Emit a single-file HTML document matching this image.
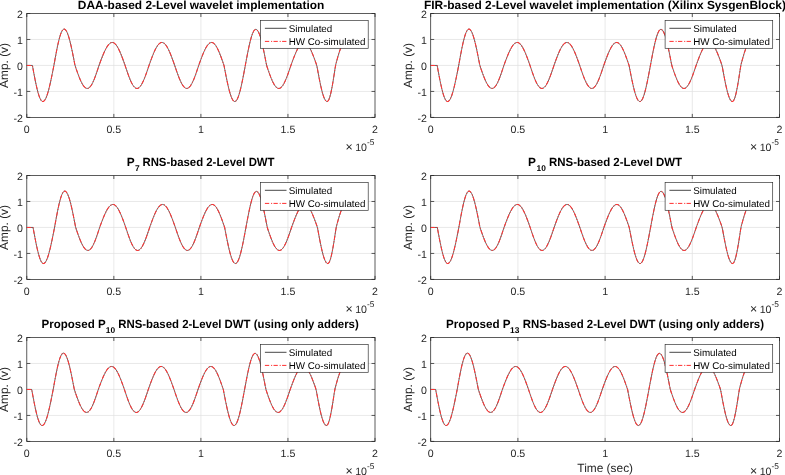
<!DOCTYPE html><html><head><meta charset="utf-8"><style>html,body{margin:0;padding:0;background:#fff;}svg{display:block}text{font-family:"Liberation Sans",Arial,Helvetica,sans-serif;text-rendering:geometricPrecision}</style></head><body>
<svg width="785" height="475" viewBox="0 0 785 475">
<rect width="785" height="475" fill="#fff"/>
<g><line x1="113.85" y1="13.50" x2="113.85" y2="117.40" stroke="#e0e0e0" stroke-width="0.7"/><line x1="200.90" y1="13.50" x2="200.90" y2="117.40" stroke="#e0e0e0" stroke-width="0.7"/><line x1="287.95" y1="13.50" x2="287.95" y2="117.40" stroke="#e0e0e0" stroke-width="0.7"/><line x1="26.80" y1="39.48" x2="375.00" y2="39.48" stroke="#e0e0e0" stroke-width="0.7"/><line x1="26.80" y1="65.45" x2="375.00" y2="65.45" stroke="#e0e0e0" stroke-width="0.7"/><line x1="26.80" y1="91.43" x2="375.00" y2="91.43" stroke="#e0e0e0" stroke-width="0.7"/><line x1="26.80" y1="117.40" x2="26.80" y2="113.90" stroke="#262626" stroke-width="0.75"/><line x1="26.80" y1="13.50" x2="26.80" y2="17.00" stroke="#262626" stroke-width="0.75"/><line x1="26.80" y1="13.50" x2="30.30" y2="13.50" stroke="#262626" stroke-width="0.75"/><line x1="375.00" y1="13.50" x2="371.50" y2="13.50" stroke="#262626" stroke-width="0.75"/><line x1="113.85" y1="117.40" x2="113.85" y2="113.90" stroke="#262626" stroke-width="0.75"/><line x1="113.85" y1="13.50" x2="113.85" y2="17.00" stroke="#262626" stroke-width="0.75"/><line x1="26.80" y1="39.48" x2="30.30" y2="39.48" stroke="#262626" stroke-width="0.75"/><line x1="375.00" y1="39.48" x2="371.50" y2="39.48" stroke="#262626" stroke-width="0.75"/><line x1="200.90" y1="117.40" x2="200.90" y2="113.90" stroke="#262626" stroke-width="0.75"/><line x1="200.90" y1="13.50" x2="200.90" y2="17.00" stroke="#262626" stroke-width="0.75"/><line x1="26.80" y1="65.45" x2="30.30" y2="65.45" stroke="#262626" stroke-width="0.75"/><line x1="375.00" y1="65.45" x2="371.50" y2="65.45" stroke="#262626" stroke-width="0.75"/><line x1="287.95" y1="117.40" x2="287.95" y2="113.90" stroke="#262626" stroke-width="0.75"/><line x1="287.95" y1="13.50" x2="287.95" y2="17.00" stroke="#262626" stroke-width="0.75"/><line x1="26.80" y1="91.43" x2="30.30" y2="91.43" stroke="#262626" stroke-width="0.75"/><line x1="375.00" y1="91.43" x2="371.50" y2="91.43" stroke="#262626" stroke-width="0.75"/><line x1="375.00" y1="117.40" x2="375.00" y2="113.90" stroke="#262626" stroke-width="0.75"/><line x1="375.00" y1="13.50" x2="375.00" y2="17.00" stroke="#262626" stroke-width="0.75"/><line x1="26.80" y1="117.40" x2="30.30" y2="117.40" stroke="#262626" stroke-width="0.75"/><line x1="375.00" y1="117.40" x2="371.50" y2="117.40" stroke="#262626" stroke-width="0.75"/><rect x="26.80" y="13.50" width="348.20" height="103.90" fill="none" stroke="#262626" stroke-width="0.75"/><path d="M26.80 65.45 L32.40 65.45 L32.80 67.63 L33.55 71.69 L34.30 75.67 L35.05 79.52 L35.80 83.19 L36.55 86.63 L37.30 89.80 L38.05 92.66 L38.80 95.16 L39.55 97.29 L40.30 99.01 L41.05 100.30 L41.80 101.14 L42.55 101.53 L43.30 101.46 L44.05 100.99 L44.80 100.12 L45.55 98.86 L46.30 97.22 L47.05 95.22 L47.80 92.89 L48.55 90.25 L49.30 87.33 L50.05 84.16 L50.80 80.79 L51.55 77.24 L52.30 73.56 L53.05 69.78 L53.80 65.96 L54.55 61.82 L55.30 57.67 L56.05 53.63 L56.80 49.74 L57.55 46.07 L58.30 42.65 L59.05 39.54 L59.80 36.77 L60.55 34.39 L61.30 32.41 L62.05 30.88 L62.80 29.81 L63.55 29.22 L64.30 29.10 L65.05 29.43 L65.80 30.17 L66.55 31.33 L67.30 32.88 L68.05 34.82 L68.80 37.11 L69.55 39.74 L70.30 42.66 L71.05 45.85 L71.80 49.27 L72.55 52.88 L73.30 56.63 L74.05 60.49 L74.80 64.40 L75.55 67.06 L76.30 69.25 L77.05 71.40 L77.80 73.50 L78.55 75.52 L79.30 77.45 L80.05 79.27 L80.80 80.96 L81.55 82.51 L82.30 83.91 L83.05 85.13 L83.80 86.18 L84.55 87.03 L85.30 87.69 L86.05 88.15 L86.80 88.39 L87.55 88.42 L88.30 88.23 L89.05 87.81 L89.80 87.16 L90.55 86.28 L91.30 85.20 L92.05 83.92 L92.80 82.45 L93.55 80.81 L94.30 79.01 L95.05 77.08 L95.80 75.03 L96.55 72.88 L97.30 70.65 L98.05 68.37 L98.80 66.07 L99.55 63.96 L100.30 61.93 L101.05 59.94 L101.80 57.99 L102.55 56.09 L103.30 54.27 L104.05 52.54 L104.80 50.91 L105.55 49.39 L106.30 48.00 L107.05 46.74 L107.80 45.63 L108.55 44.68 L109.30 43.89 L110.05 43.27 L110.80 42.82 L111.55 42.55 L112.30 42.46 L113.05 42.56 L113.80 42.85 L114.55 43.33 L115.30 44.00 L116.05 44.85 L116.80 45.88 L117.55 47.07 L118.30 48.42 L119.05 49.91 L119.80 51.53 L120.55 53.27 L121.30 55.11 L122.05 57.05 L122.80 59.05 L123.55 61.10 L124.30 63.20 L125.05 65.31 L125.80 67.57 L126.55 69.82 L127.30 72.03 L128.05 74.18 L128.80 76.24 L129.55 78.19 L130.30 80.02 L131.05 81.70 L131.80 83.23 L132.55 84.58 L133.30 85.75 L134.05 86.72 L134.80 87.48 L135.55 88.02 L136.30 88.34 L137.05 88.44 L137.80 88.31 L138.55 87.97 L139.30 87.40 L140.05 86.63 L140.80 85.65 L141.55 84.48 L142.30 83.12 L143.05 81.60 L143.80 79.92 L144.55 78.10 L145.30 76.15 L146.05 74.11 L146.80 71.98 L147.55 69.79 L148.30 67.55 L149.05 65.31 L149.80 63.21 L150.55 61.14 L151.30 59.10 L152.05 57.11 L152.80 55.19 L153.55 53.36 L154.30 51.62 L155.05 50.01 L155.80 48.52 L156.55 47.17 L157.30 45.97 L158.05 44.94 L158.80 44.08 L159.55 43.40 L160.30 42.90 L161.05 42.59 L161.80 42.46 L162.55 42.54 L163.30 42.80 L164.05 43.26 L164.80 43.90 L165.55 44.73 L166.30 45.73 L167.05 46.90 L167.80 48.23 L168.55 49.70 L169.30 51.31 L170.05 53.03 L170.80 54.86 L171.55 56.78 L172.30 58.78 L173.05 60.83 L173.80 62.92 L174.55 65.03 L175.30 67.24 L176.05 69.46 L176.80 71.64 L177.55 73.76 L178.30 75.81 L179.05 77.75 L179.80 79.58 L180.55 81.28 L181.30 82.82 L182.05 84.20 L182.80 85.41 L183.55 86.42 L184.30 87.24 L185.05 87.85 L185.80 88.24 L186.55 88.43 L187.30 88.39 L188.05 88.13 L188.80 87.64 L189.55 86.94 L190.30 86.03 L191.05 84.91 L191.80 83.61 L192.55 82.13 L193.30 80.48 L194.05 78.69 L194.80 76.77 L195.55 74.74 L196.30 72.61 L197.05 70.42 L197.80 68.17 L198.55 65.91 L199.30 63.77 L200.05 61.69 L200.80 59.64 L201.55 57.63 L202.30 55.69 L203.05 53.84 L203.80 52.07 L204.55 50.43 L205.30 48.90 L206.05 47.51 L206.80 46.28 L207.55 45.20 L208.30 44.29 L209.05 43.56 L209.80 43.01 L210.55 42.65 L211.30 42.48 L212.05 42.50 L212.80 42.73 L213.55 43.16 L214.30 43.79 L215.05 44.62 L215.80 45.64 L216.55 46.84 L217.30 48.20 L218.05 49.72 L218.80 51.38 L219.55 53.17 L220.30 55.07 L221.05 57.06 L221.80 59.13 L222.55 61.25 L223.30 63.41 L224.05 65.71 L224.80 69.64 L225.55 73.52 L226.30 77.30 L227.05 80.95 L227.80 84.40 L228.55 87.64 L229.30 90.61 L230.05 93.28 L230.80 95.62 L231.55 97.60 L232.30 99.19 L233.05 100.39 L233.80 101.17 L234.55 101.53 L235.30 101.45 L236.05 100.93 L236.80 99.95 L237.55 98.54 L238.30 96.72 L239.05 94.50 L239.80 91.92 L240.55 89.00 L241.30 85.79 L242.05 82.32 L242.80 78.64 L243.55 74.79 L244.30 70.83 L245.05 66.80 L245.80 62.75 L246.55 58.74 L247.30 54.81 L248.05 51.01 L248.80 47.40 L249.55 44.01 L250.30 40.89 L251.05 38.08 L251.80 35.62 L252.55 33.53 L253.30 31.84 L254.05 30.58 L254.80 29.75 L255.55 29.37 L256.30 29.44 L257.05 29.94 L257.80 30.86 L258.55 32.19 L259.30 33.92 L260.05 36.03 L260.80 38.48 L261.55 41.25 L262.30 44.31 L263.05 47.63 L263.80 51.15 L264.55 54.84 L265.30 58.66 L266.05 62.56 L266.80 66.04 L267.55 68.25 L268.30 70.44 L269.05 72.58 L269.80 74.66 L270.55 76.64 L271.30 78.53 L272.05 80.29 L272.80 81.91 L273.55 83.38 L274.30 84.69 L275.05 85.81 L275.80 86.74 L276.55 87.48 L277.30 88.01 L278.05 88.33 L278.80 88.44 L279.55 88.33 L280.30 88.00 L281.05 87.46 L281.80 86.72 L282.55 85.77 L283.30 84.63 L284.05 83.30 L284.80 81.81 L285.55 80.16 L286.30 78.38 L287.05 76.47 L287.80 74.45 L288.55 72.35 L289.30 70.19 L290.05 67.98 L290.80 65.75 L291.55 63.66 L292.30 61.61 L293.05 59.59 L293.80 57.62 L294.55 55.71 L295.30 53.88 L296.05 52.14 L296.80 50.51 L297.55 49.00 L298.30 47.63 L299.05 46.39 L299.80 45.32 L300.55 44.40 L301.30 43.66 L302.05 43.09 L302.80 42.70 L303.55 42.50 L304.30 42.48 L305.05 42.65 L305.80 43.02 L306.55 43.58 L307.30 44.32 L308.05 45.24 L308.80 46.34 L309.55 47.59 L310.30 49.00 L311.05 50.54 L311.80 52.21 L312.55 54.00 L313.30 55.88 L314.05 57.84 L314.80 59.86 L315.55 61.94 L316.30 64.04 L317.05 66.83 L317.80 70.93 L318.55 74.97 L319.30 78.88 L320.05 82.62 L320.80 86.13 L321.55 89.38 L322.30 92.31 L323.05 94.88 L323.80 97.08 L324.55 98.86 L325.30 100.20 L326.05 101.09 L326.80 101.52 L327.55 101.43 L328.30 100.65 L329.05 99.18 L329.80 97.05 L330.55 94.30 L331.30 90.98 L332.05 87.16 L332.80 82.91 L333.55 78.33 L334.30 73.48 L335.05 68.48 L335.80 64.32 L336.55 61.52 L337.30 58.78 L338.05 56.13 L338.80 53.63 L339.55 51.31 L340.30 49.20 L341.05 47.33 L341.80 45.73 L342.55 44.43 L343.30 43.45 L344.05 42.80 L344.80 42.49 L345.55 42.50 L346.30 42.76" fill="none" stroke="#333" stroke-width="0.75" stroke-linejoin="round"/><path d="M26.80 65.45 L32.40 65.45 L32.80 67.63 L33.55 71.69 L34.30 75.67 L35.05 79.52 L35.80 83.19 L36.55 86.63 L37.30 89.80 L38.05 92.66 L38.80 95.16 L39.55 97.29 L40.30 99.01 L41.05 100.30 L41.80 101.14 L42.55 101.53 L43.30 101.46 L44.05 100.99 L44.80 100.12 L45.55 98.86 L46.30 97.22 L47.05 95.22 L47.80 92.89 L48.55 90.25 L49.30 87.33 L50.05 84.16 L50.80 80.79 L51.55 77.24 L52.30 73.56 L53.05 69.78 L53.80 65.96 L54.55 61.82 L55.30 57.67 L56.05 53.63 L56.80 49.74 L57.55 46.07 L58.30 42.65 L59.05 39.54 L59.80 36.77 L60.55 34.39 L61.30 32.41 L62.05 30.88 L62.80 29.81 L63.55 29.22 L64.30 29.10 L65.05 29.43 L65.80 30.17 L66.55 31.33 L67.30 32.88 L68.05 34.82 L68.80 37.11 L69.55 39.74 L70.30 42.66 L71.05 45.85 L71.80 49.27 L72.55 52.88 L73.30 56.63 L74.05 60.49 L74.80 64.40 L75.55 67.06 L76.30 69.25 L77.05 71.40 L77.80 73.50 L78.55 75.52 L79.30 77.45 L80.05 79.27 L80.80 80.96 L81.55 82.51 L82.30 83.91 L83.05 85.13 L83.80 86.18 L84.55 87.03 L85.30 87.69 L86.05 88.15 L86.80 88.39 L87.55 88.42 L88.30 88.23 L89.05 87.81 L89.80 87.16 L90.55 86.28 L91.30 85.20 L92.05 83.92 L92.80 82.45 L93.55 80.81 L94.30 79.01 L95.05 77.08 L95.80 75.03 L96.55 72.88 L97.30 70.65 L98.05 68.37 L98.80 66.07 L99.55 63.96 L100.30 61.93 L101.05 59.94 L101.80 57.99 L102.55 56.09 L103.30 54.27 L104.05 52.54 L104.80 50.91 L105.55 49.39 L106.30 48.00 L107.05 46.74 L107.80 45.63 L108.55 44.68 L109.30 43.89 L110.05 43.27 L110.80 42.82 L111.55 42.55 L112.30 42.46 L113.05 42.56 L113.80 42.85 L114.55 43.33 L115.30 44.00 L116.05 44.85 L116.80 45.88 L117.55 47.07 L118.30 48.42 L119.05 49.91 L119.80 51.53 L120.55 53.27 L121.30 55.11 L122.05 57.05 L122.80 59.05 L123.55 61.10 L124.30 63.20 L125.05 65.31 L125.80 67.57 L126.55 69.82 L127.30 72.03 L128.05 74.18 L128.80 76.24 L129.55 78.19 L130.30 80.02 L131.05 81.70 L131.80 83.23 L132.55 84.58 L133.30 85.75 L134.05 86.72 L134.80 87.48 L135.55 88.02 L136.30 88.34 L137.05 88.44 L137.80 88.31 L138.55 87.97 L139.30 87.40 L140.05 86.63 L140.80 85.65 L141.55 84.48 L142.30 83.12 L143.05 81.60 L143.80 79.92 L144.55 78.10 L145.30 76.15 L146.05 74.11 L146.80 71.98 L147.55 69.79 L148.30 67.55 L149.05 65.31 L149.80 63.21 L150.55 61.14 L151.30 59.10 L152.05 57.11 L152.80 55.19 L153.55 53.36 L154.30 51.62 L155.05 50.01 L155.80 48.52 L156.55 47.17 L157.30 45.97 L158.05 44.94 L158.80 44.08 L159.55 43.40 L160.30 42.90 L161.05 42.59 L161.80 42.46 L162.55 42.54 L163.30 42.80 L164.05 43.26 L164.80 43.90 L165.55 44.73 L166.30 45.73 L167.05 46.90 L167.80 48.23 L168.55 49.70 L169.30 51.31 L170.05 53.03 L170.80 54.86 L171.55 56.78 L172.30 58.78 L173.05 60.83 L173.80 62.92 L174.55 65.03 L175.30 67.24 L176.05 69.46 L176.80 71.64 L177.55 73.76 L178.30 75.81 L179.05 77.75 L179.80 79.58 L180.55 81.28 L181.30 82.82 L182.05 84.20 L182.80 85.41 L183.55 86.42 L184.30 87.24 L185.05 87.85 L185.80 88.24 L186.55 88.43 L187.30 88.39 L188.05 88.13 L188.80 87.64 L189.55 86.94 L190.30 86.03 L191.05 84.91 L191.80 83.61 L192.55 82.13 L193.30 80.48 L194.05 78.69 L194.80 76.77 L195.55 74.74 L196.30 72.61 L197.05 70.42 L197.80 68.17 L198.55 65.91 L199.30 63.77 L200.05 61.69 L200.80 59.64 L201.55 57.63 L202.30 55.69 L203.05 53.84 L203.80 52.07 L204.55 50.43 L205.30 48.90 L206.05 47.51 L206.80 46.28 L207.55 45.20 L208.30 44.29 L209.05 43.56 L209.80 43.01 L210.55 42.65 L211.30 42.48 L212.05 42.50 L212.80 42.73 L213.55 43.16 L214.30 43.79 L215.05 44.62 L215.80 45.64 L216.55 46.84 L217.30 48.20 L218.05 49.72 L218.80 51.38 L219.55 53.17 L220.30 55.07 L221.05 57.06 L221.80 59.13 L222.55 61.25 L223.30 63.41 L224.05 65.71 L224.80 69.64 L225.55 73.52 L226.30 77.30 L227.05 80.95 L227.80 84.40 L228.55 87.64 L229.30 90.61 L230.05 93.28 L230.80 95.62 L231.55 97.60 L232.30 99.19 L233.05 100.39 L233.80 101.17 L234.55 101.53 L235.30 101.45 L236.05 100.93 L236.80 99.95 L237.55 98.54 L238.30 96.72 L239.05 94.50 L239.80 91.92 L240.55 89.00 L241.30 85.79 L242.05 82.32 L242.80 78.64 L243.55 74.79 L244.30 70.83 L245.05 66.80 L245.80 62.75 L246.55 58.74 L247.30 54.81 L248.05 51.01 L248.80 47.40 L249.55 44.01 L250.30 40.89 L251.05 38.08 L251.80 35.62 L252.55 33.53 L253.30 31.84 L254.05 30.58 L254.80 29.75 L255.55 29.37 L256.30 29.44 L257.05 29.94 L257.80 30.86 L258.55 32.19 L259.30 33.92 L260.05 36.03 L260.80 38.48 L261.55 41.25 L262.30 44.31 L263.05 47.63 L263.80 51.15 L264.55 54.84 L265.30 58.66 L266.05 62.56 L266.80 66.04 L267.55 68.25 L268.30 70.44 L269.05 72.58 L269.80 74.66 L270.55 76.64 L271.30 78.53 L272.05 80.29 L272.80 81.91 L273.55 83.38 L274.30 84.69 L275.05 85.81 L275.80 86.74 L276.55 87.48 L277.30 88.01 L278.05 88.33 L278.80 88.44 L279.55 88.33 L280.30 88.00 L281.05 87.46 L281.80 86.72 L282.55 85.77 L283.30 84.63 L284.05 83.30 L284.80 81.81 L285.55 80.16 L286.30 78.38 L287.05 76.47 L287.80 74.45 L288.55 72.35 L289.30 70.19 L290.05 67.98 L290.80 65.75 L291.55 63.66 L292.30 61.61 L293.05 59.59 L293.80 57.62 L294.55 55.71 L295.30 53.88 L296.05 52.14 L296.80 50.51 L297.55 49.00 L298.30 47.63 L299.05 46.39 L299.80 45.32 L300.55 44.40 L301.30 43.66 L302.05 43.09 L302.80 42.70 L303.55 42.50 L304.30 42.48 L305.05 42.65 L305.80 43.02 L306.55 43.58 L307.30 44.32 L308.05 45.24 L308.80 46.34 L309.55 47.59 L310.30 49.00 L311.05 50.54 L311.80 52.21 L312.55 54.00 L313.30 55.88 L314.05 57.84 L314.80 59.86 L315.55 61.94 L316.30 64.04 L317.05 66.83 L317.80 70.93 L318.55 74.97 L319.30 78.88 L320.05 82.62 L320.80 86.13 L321.55 89.38 L322.30 92.31 L323.05 94.88 L323.80 97.08 L324.55 98.86 L325.30 100.20 L326.05 101.09 L326.80 101.52 L327.55 101.43 L328.30 100.65 L329.05 99.18 L329.80 97.05 L330.55 94.30 L331.30 90.98 L332.05 87.16 L332.80 82.91 L333.55 78.33 L334.30 73.48 L335.05 68.48 L335.80 64.32 L336.55 61.52 L337.30 58.78 L338.05 56.13 L338.80 53.63 L339.55 51.31 L340.30 49.20 L341.05 47.33 L341.80 45.73 L342.55 44.43 L343.30 43.45 L344.05 42.80 L344.80 42.49 L345.55 42.50 L346.30 42.76" fill="none" stroke="#ff3535" stroke-width="1.05" stroke-dasharray="4.3 1.85 1.1 1.35" stroke-linejoin="round"/><text x="22.90" y="17.70" font-size="10.60" fill="#262626" text-anchor="end">2</text><text x="22.90" y="43.68" font-size="10.60" fill="#262626" text-anchor="end">1</text><text x="22.90" y="69.65" font-size="10.60" fill="#262626" text-anchor="end">0</text><text x="22.90" y="95.63" font-size="10.60" fill="#262626" text-anchor="end">-1</text><text x="22.90" y="121.60" font-size="10.60" fill="#262626" text-anchor="end">-2</text><text x="26.80" y="132.60" font-size="10.60" fill="#262626" text-anchor="middle">0</text><text x="113.85" y="132.60" font-size="10.60" fill="#262626" text-anchor="middle">0.5</text><text x="200.90" y="132.60" font-size="10.60" fill="#262626" text-anchor="middle">1</text><text x="287.95" y="132.60" font-size="10.60" fill="#262626" text-anchor="middle">1.5</text><text x="375.00" y="132.60" font-size="10.60" fill="#262626" text-anchor="middle">2</text><text x="349.15" y="150.50" font-size="12.4" fill="#262626" text-anchor="middle">×</text><text x="374.40" y="150.60" font-size="10.60" fill="#262626" text-anchor="end">10<tspan font-size="8.3" dy="-5.6">-5</tspan></text><text transform="translate(8.00 65.45) rotate(-90)" font-size="11.90" fill="#262626" text-anchor="middle">Amp. (v)</text><text id="t00_0" transform="translate(77.80 9.00) scale(1.0070 1)" font-size="11.85" font-weight="bold" fill="#000">DAA-based 2-Level wavelet implementation</text><rect x="260.60" y="20.60" width="107.6" height="27.7" fill="#fff" stroke="#262626" stroke-width="0.65"/><line x1="264.90" y1="28.30" x2="286.50" y2="28.30" stroke="#262626" stroke-width="0.85"/><line x1="264.90" y1="41.40" x2="286.60" y2="41.40" stroke="#ff3030" stroke-width="1.0" stroke-dasharray="4.3 1.85 1.1 1.35"/><text x="288.70" y="32.00" font-size="9.80" fill="#000">Simulated</text><text x="288.70" y="44.80" font-size="9.80" fill="#000">HW Co-simulated</text></g>
<g><line x1="517.90" y1="13.50" x2="517.90" y2="117.40" stroke="#e0e0e0" stroke-width="0.7"/><line x1="605.10" y1="13.50" x2="605.10" y2="117.40" stroke="#e0e0e0" stroke-width="0.7"/><line x1="692.30" y1="13.50" x2="692.30" y2="117.40" stroke="#e0e0e0" stroke-width="0.7"/><line x1="430.70" y1="39.48" x2="779.50" y2="39.48" stroke="#e0e0e0" stroke-width="0.7"/><line x1="430.70" y1="65.45" x2="779.50" y2="65.45" stroke="#e0e0e0" stroke-width="0.7"/><line x1="430.70" y1="91.43" x2="779.50" y2="91.43" stroke="#e0e0e0" stroke-width="0.7"/><line x1="430.70" y1="117.40" x2="430.70" y2="113.90" stroke="#262626" stroke-width="0.75"/><line x1="430.70" y1="13.50" x2="430.70" y2="17.00" stroke="#262626" stroke-width="0.75"/><line x1="430.70" y1="13.50" x2="434.20" y2="13.50" stroke="#262626" stroke-width="0.75"/><line x1="779.50" y1="13.50" x2="776.00" y2="13.50" stroke="#262626" stroke-width="0.75"/><line x1="517.90" y1="117.40" x2="517.90" y2="113.90" stroke="#262626" stroke-width="0.75"/><line x1="517.90" y1="13.50" x2="517.90" y2="17.00" stroke="#262626" stroke-width="0.75"/><line x1="430.70" y1="39.48" x2="434.20" y2="39.48" stroke="#262626" stroke-width="0.75"/><line x1="779.50" y1="39.48" x2="776.00" y2="39.48" stroke="#262626" stroke-width="0.75"/><line x1="605.10" y1="117.40" x2="605.10" y2="113.90" stroke="#262626" stroke-width="0.75"/><line x1="605.10" y1="13.50" x2="605.10" y2="17.00" stroke="#262626" stroke-width="0.75"/><line x1="430.70" y1="65.45" x2="434.20" y2="65.45" stroke="#262626" stroke-width="0.75"/><line x1="779.50" y1="65.45" x2="776.00" y2="65.45" stroke="#262626" stroke-width="0.75"/><line x1="692.30" y1="117.40" x2="692.30" y2="113.90" stroke="#262626" stroke-width="0.75"/><line x1="692.30" y1="13.50" x2="692.30" y2="17.00" stroke="#262626" stroke-width="0.75"/><line x1="430.70" y1="91.43" x2="434.20" y2="91.43" stroke="#262626" stroke-width="0.75"/><line x1="779.50" y1="91.43" x2="776.00" y2="91.43" stroke="#262626" stroke-width="0.75"/><line x1="779.50" y1="117.40" x2="779.50" y2="113.90" stroke="#262626" stroke-width="0.75"/><line x1="779.50" y1="13.50" x2="779.50" y2="17.00" stroke="#262626" stroke-width="0.75"/><line x1="430.70" y1="117.40" x2="434.20" y2="117.40" stroke="#262626" stroke-width="0.75"/><line x1="779.50" y1="117.40" x2="776.00" y2="117.40" stroke="#262626" stroke-width="0.75"/><rect x="430.70" y="13.50" width="348.80" height="103.90" fill="none" stroke="#262626" stroke-width="0.75"/><path d="M430.70 65.45 L437.16 65.45 L437.56 67.63 L438.31 71.69 L439.06 75.67 L439.81 79.52 L440.57 83.19 L441.32 86.63 L442.07 89.80 L442.82 92.66 L443.57 95.16 L444.32 97.29 L445.07 99.01 L445.82 100.30 L446.58 101.14 L447.33 101.53 L448.08 101.46 L448.83 100.99 L449.58 100.12 L450.33 98.86 L451.08 97.22 L451.83 95.22 L452.59 92.89 L453.34 90.25 L454.09 87.33 L454.84 84.16 L455.59 80.79 L456.34 77.24 L457.09 73.56 L457.85 69.78 L458.60 65.96 L459.35 61.82 L460.10 57.67 L460.85 53.63 L461.60 49.74 L462.35 46.07 L463.10 42.65 L463.86 39.54 L464.61 36.77 L465.36 34.39 L466.11 32.41 L466.86 30.88 L467.61 29.81 L468.36 29.22 L469.11 29.10 L469.87 29.43 L470.62 30.17 L471.37 31.33 L472.12 32.88 L472.87 34.82 L473.62 37.11 L474.37 39.74 L475.12 42.66 L475.88 45.85 L476.63 49.27 L477.38 52.88 L478.13 56.63 L478.88 60.49 L479.63 64.40 L480.38 67.06 L481.14 69.25 L481.89 71.40 L482.64 73.50 L483.39 75.52 L484.14 77.45 L484.89 79.27 L485.64 80.96 L486.39 82.51 L487.15 83.91 L487.90 85.13 L488.65 86.18 L489.40 87.03 L490.15 87.69 L490.90 88.15 L491.65 88.39 L492.40 88.42 L493.16 88.23 L493.91 87.81 L494.66 87.16 L495.41 86.28 L496.16 85.20 L496.91 83.92 L497.66 82.45 L498.42 80.81 L499.17 79.01 L499.92 77.08 L500.67 75.03 L501.42 72.88 L502.17 70.65 L502.92 68.37 L503.67 66.07 L504.43 63.96 L505.18 61.93 L505.93 59.94 L506.68 57.99 L507.43 56.09 L508.18 54.27 L508.93 52.54 L509.68 50.91 L510.44 49.39 L511.19 48.00 L511.94 46.74 L512.69 45.63 L513.44 44.68 L514.19 43.89 L514.94 43.27 L515.69 42.82 L516.45 42.55 L517.20 42.46 L517.95 42.56 L518.70 42.85 L519.45 43.33 L520.20 44.00 L520.95 44.85 L521.71 45.88 L522.46 47.07 L523.21 48.42 L523.96 49.91 L524.71 51.53 L525.46 53.27 L526.21 55.11 L526.96 57.05 L527.72 59.05 L528.47 61.10 L529.22 63.20 L529.97 65.31 L530.72 67.57 L531.47 69.82 L532.22 72.03 L532.97 74.18 L533.73 76.24 L534.48 78.19 L535.23 80.02 L535.98 81.70 L536.73 83.23 L537.48 84.58 L538.23 85.75 L538.98 86.72 L539.74 87.48 L540.49 88.02 L541.24 88.34 L541.99 88.44 L542.74 88.31 L543.49 87.97 L544.24 87.40 L545.00 86.63 L545.75 85.65 L546.50 84.48 L547.25 83.12 L548.00 81.60 L548.75 79.92 L549.50 78.10 L550.25 76.15 L551.01 74.11 L551.76 71.98 L552.51 69.79 L553.26 67.55 L554.01 65.31 L554.76 63.21 L555.51 61.14 L556.26 59.10 L557.02 57.11 L557.77 55.19 L558.52 53.36 L559.27 51.62 L560.02 50.01 L560.77 48.52 L561.52 47.17 L562.27 45.97 L563.03 44.94 L563.78 44.08 L564.53 43.40 L565.28 42.90 L566.03 42.59 L566.78 42.46 L567.53 42.54 L568.29 42.80 L569.04 43.26 L569.79 43.90 L570.54 44.73 L571.29 45.73 L572.04 46.90 L572.79 48.23 L573.54 49.70 L574.30 51.31 L575.05 53.03 L575.80 54.86 L576.55 56.78 L577.30 58.78 L578.05 60.83 L578.80 62.92 L579.55 65.03 L580.31 67.24 L581.06 69.46 L581.81 71.64 L582.56 73.76 L583.31 75.81 L584.06 77.75 L584.81 79.58 L585.56 81.28 L586.32 82.82 L587.07 84.20 L587.82 85.41 L588.57 86.42 L589.32 87.24 L590.07 87.85 L590.82 88.24 L591.58 88.43 L592.33 88.39 L593.08 88.13 L593.83 87.64 L594.58 86.94 L595.33 86.03 L596.08 84.91 L596.83 83.61 L597.59 82.13 L598.34 80.48 L599.09 78.69 L599.84 76.77 L600.59 74.74 L601.34 72.61 L602.09 70.42 L602.84 68.17 L603.60 65.91 L604.35 63.77 L605.10 61.69 L605.85 59.64 L606.60 57.63 L607.35 55.69 L608.10 53.84 L608.85 52.07 L609.61 50.43 L610.36 48.90 L611.11 47.51 L611.86 46.28 L612.61 45.20 L613.36 44.29 L614.11 43.56 L614.87 43.01 L615.62 42.65 L616.37 42.48 L617.12 42.50 L617.87 42.73 L618.62 43.16 L619.37 43.79 L620.12 44.62 L620.88 45.64 L621.63 46.84 L622.38 48.20 L623.13 49.72 L623.88 51.38 L624.63 53.17 L625.38 55.07 L626.13 57.06 L626.89 59.13 L627.64 61.25 L628.39 63.41 L629.14 65.71 L629.89 69.64 L630.64 73.52 L631.39 77.30 L632.15 80.95 L632.90 84.40 L633.65 87.64 L634.40 90.61 L635.15 93.28 L635.90 95.62 L636.65 97.60 L637.40 99.19 L638.16 100.39 L638.91 101.17 L639.66 101.53 L640.41 101.45 L641.16 100.93 L641.91 99.95 L642.66 98.54 L643.41 96.72 L644.17 94.50 L644.92 91.92 L645.67 89.00 L646.42 85.79 L647.17 82.32 L647.92 78.64 L648.67 74.79 L649.42 70.83 L650.18 66.80 L650.93 62.75 L651.68 58.74 L652.43 54.81 L653.18 51.01 L653.93 47.40 L654.68 44.01 L655.44 40.89 L656.19 38.08 L656.94 35.62 L657.69 33.53 L658.44 31.84 L659.19 30.58 L659.94 29.75 L660.69 29.37 L661.45 29.44 L662.20 29.94 L662.95 30.86 L663.70 32.19 L664.45 33.92 L665.20 36.03 L665.95 38.48 L666.70 41.25 L667.46 44.31 L668.21 47.63 L668.96 51.15 L669.71 54.84 L670.46 58.66 L671.21 62.56 L671.96 66.04 L672.71 68.25 L673.47 70.44 L674.22 72.58 L674.97 74.66 L675.72 76.64 L676.47 78.53 L677.22 80.29 L677.97 81.91 L678.73 83.38 L679.48 84.69 L680.23 85.81 L680.98 86.74 L681.73 87.48 L682.48 88.01 L683.23 88.33 L683.98 88.44 L684.74 88.33 L685.49 88.00 L686.24 87.46 L686.99 86.72 L687.74 85.77 L688.49 84.63 L689.24 83.30 L689.99 81.81 L690.75 80.16 L691.50 78.38 L692.25 76.47 L693.00 74.45 L693.75 72.35 L694.50 70.19 L695.25 67.98 L696.00 65.75 L696.76 63.66 L697.51 61.61 L698.26 59.59 L699.01 57.62 L699.76 55.71 L700.51 53.88 L701.26 52.14 L702.02 50.51 L702.77 49.00 L703.52 47.63 L704.27 46.39 L705.02 45.32 L705.77 44.40 L706.52 43.66 L707.27 43.09 L708.03 42.70 L708.78 42.50 L709.53 42.48 L710.28 42.65 L711.03 43.02 L711.78 43.58 L712.53 44.32 L713.28 45.24 L714.04 46.34 L714.79 47.59 L715.54 49.00 L716.29 50.54 L717.04 52.21 L717.79 54.00 L718.54 55.88 L719.29 57.84 L720.05 59.86 L720.80 61.94 L721.55 64.04 L722.30 66.83 L723.05 70.93 L723.80 74.97 L724.55 78.88 L725.31 82.62 L726.06 86.13 L726.81 89.38 L727.56 92.31 L728.31 94.88 L729.06 97.08 L729.81 98.86 L730.56 100.20 L731.32 101.09 L732.07 101.52 L732.82 101.43 L733.57 100.65 L734.32 99.18 L735.07 97.05 L735.82 94.30 L736.57 90.98 L737.33 87.16 L738.08 82.91 L738.83 78.33 L739.58 73.48 L740.33 68.48 L741.08 64.32 L741.83 61.52 L742.59 58.78 L743.34 56.13 L744.09 53.63 L744.84 51.31 L745.59 49.20 L746.34 47.33 L747.09 45.73 L747.84 44.43 L748.60 43.45 L749.35 42.80 L750.10 42.49 L750.85 42.50 L751.60 42.76" fill="none" stroke="#333" stroke-width="0.75" stroke-linejoin="round"/><path d="M430.70 65.45 L437.16 65.45 L437.56 67.63 L438.31 71.69 L439.06 75.67 L439.81 79.52 L440.57 83.19 L441.32 86.63 L442.07 89.80 L442.82 92.66 L443.57 95.16 L444.32 97.29 L445.07 99.01 L445.82 100.30 L446.58 101.14 L447.33 101.53 L448.08 101.46 L448.83 100.99 L449.58 100.12 L450.33 98.86 L451.08 97.22 L451.83 95.22 L452.59 92.89 L453.34 90.25 L454.09 87.33 L454.84 84.16 L455.59 80.79 L456.34 77.24 L457.09 73.56 L457.85 69.78 L458.60 65.96 L459.35 61.82 L460.10 57.67 L460.85 53.63 L461.60 49.74 L462.35 46.07 L463.10 42.65 L463.86 39.54 L464.61 36.77 L465.36 34.39 L466.11 32.41 L466.86 30.88 L467.61 29.81 L468.36 29.22 L469.11 29.10 L469.87 29.43 L470.62 30.17 L471.37 31.33 L472.12 32.88 L472.87 34.82 L473.62 37.11 L474.37 39.74 L475.12 42.66 L475.88 45.85 L476.63 49.27 L477.38 52.88 L478.13 56.63 L478.88 60.49 L479.63 64.40 L480.38 67.06 L481.14 69.25 L481.89 71.40 L482.64 73.50 L483.39 75.52 L484.14 77.45 L484.89 79.27 L485.64 80.96 L486.39 82.51 L487.15 83.91 L487.90 85.13 L488.65 86.18 L489.40 87.03 L490.15 87.69 L490.90 88.15 L491.65 88.39 L492.40 88.42 L493.16 88.23 L493.91 87.81 L494.66 87.16 L495.41 86.28 L496.16 85.20 L496.91 83.92 L497.66 82.45 L498.42 80.81 L499.17 79.01 L499.92 77.08 L500.67 75.03 L501.42 72.88 L502.17 70.65 L502.92 68.37 L503.67 66.07 L504.43 63.96 L505.18 61.93 L505.93 59.94 L506.68 57.99 L507.43 56.09 L508.18 54.27 L508.93 52.54 L509.68 50.91 L510.44 49.39 L511.19 48.00 L511.94 46.74 L512.69 45.63 L513.44 44.68 L514.19 43.89 L514.94 43.27 L515.69 42.82 L516.45 42.55 L517.20 42.46 L517.95 42.56 L518.70 42.85 L519.45 43.33 L520.20 44.00 L520.95 44.85 L521.71 45.88 L522.46 47.07 L523.21 48.42 L523.96 49.91 L524.71 51.53 L525.46 53.27 L526.21 55.11 L526.96 57.05 L527.72 59.05 L528.47 61.10 L529.22 63.20 L529.97 65.31 L530.72 67.57 L531.47 69.82 L532.22 72.03 L532.97 74.18 L533.73 76.24 L534.48 78.19 L535.23 80.02 L535.98 81.70 L536.73 83.23 L537.48 84.58 L538.23 85.75 L538.98 86.72 L539.74 87.48 L540.49 88.02 L541.24 88.34 L541.99 88.44 L542.74 88.31 L543.49 87.97 L544.24 87.40 L545.00 86.63 L545.75 85.65 L546.50 84.48 L547.25 83.12 L548.00 81.60 L548.75 79.92 L549.50 78.10 L550.25 76.15 L551.01 74.11 L551.76 71.98 L552.51 69.79 L553.26 67.55 L554.01 65.31 L554.76 63.21 L555.51 61.14 L556.26 59.10 L557.02 57.11 L557.77 55.19 L558.52 53.36 L559.27 51.62 L560.02 50.01 L560.77 48.52 L561.52 47.17 L562.27 45.97 L563.03 44.94 L563.78 44.08 L564.53 43.40 L565.28 42.90 L566.03 42.59 L566.78 42.46 L567.53 42.54 L568.29 42.80 L569.04 43.26 L569.79 43.90 L570.54 44.73 L571.29 45.73 L572.04 46.90 L572.79 48.23 L573.54 49.70 L574.30 51.31 L575.05 53.03 L575.80 54.86 L576.55 56.78 L577.30 58.78 L578.05 60.83 L578.80 62.92 L579.55 65.03 L580.31 67.24 L581.06 69.46 L581.81 71.64 L582.56 73.76 L583.31 75.81 L584.06 77.75 L584.81 79.58 L585.56 81.28 L586.32 82.82 L587.07 84.20 L587.82 85.41 L588.57 86.42 L589.32 87.24 L590.07 87.85 L590.82 88.24 L591.58 88.43 L592.33 88.39 L593.08 88.13 L593.83 87.64 L594.58 86.94 L595.33 86.03 L596.08 84.91 L596.83 83.61 L597.59 82.13 L598.34 80.48 L599.09 78.69 L599.84 76.77 L600.59 74.74 L601.34 72.61 L602.09 70.42 L602.84 68.17 L603.60 65.91 L604.35 63.77 L605.10 61.69 L605.85 59.64 L606.60 57.63 L607.35 55.69 L608.10 53.84 L608.85 52.07 L609.61 50.43 L610.36 48.90 L611.11 47.51 L611.86 46.28 L612.61 45.20 L613.36 44.29 L614.11 43.56 L614.87 43.01 L615.62 42.65 L616.37 42.48 L617.12 42.50 L617.87 42.73 L618.62 43.16 L619.37 43.79 L620.12 44.62 L620.88 45.64 L621.63 46.84 L622.38 48.20 L623.13 49.72 L623.88 51.38 L624.63 53.17 L625.38 55.07 L626.13 57.06 L626.89 59.13 L627.64 61.25 L628.39 63.41 L629.14 65.71 L629.89 69.64 L630.64 73.52 L631.39 77.30 L632.15 80.95 L632.90 84.40 L633.65 87.64 L634.40 90.61 L635.15 93.28 L635.90 95.62 L636.65 97.60 L637.40 99.19 L638.16 100.39 L638.91 101.17 L639.66 101.53 L640.41 101.45 L641.16 100.93 L641.91 99.95 L642.66 98.54 L643.41 96.72 L644.17 94.50 L644.92 91.92 L645.67 89.00 L646.42 85.79 L647.17 82.32 L647.92 78.64 L648.67 74.79 L649.42 70.83 L650.18 66.80 L650.93 62.75 L651.68 58.74 L652.43 54.81 L653.18 51.01 L653.93 47.40 L654.68 44.01 L655.44 40.89 L656.19 38.08 L656.94 35.62 L657.69 33.53 L658.44 31.84 L659.19 30.58 L659.94 29.75 L660.69 29.37 L661.45 29.44 L662.20 29.94 L662.95 30.86 L663.70 32.19 L664.45 33.92 L665.20 36.03 L665.95 38.48 L666.70 41.25 L667.46 44.31 L668.21 47.63 L668.96 51.15 L669.71 54.84 L670.46 58.66 L671.21 62.56 L671.96 66.04 L672.71 68.25 L673.47 70.44 L674.22 72.58 L674.97 74.66 L675.72 76.64 L676.47 78.53 L677.22 80.29 L677.97 81.91 L678.73 83.38 L679.48 84.69 L680.23 85.81 L680.98 86.74 L681.73 87.48 L682.48 88.01 L683.23 88.33 L683.98 88.44 L684.74 88.33 L685.49 88.00 L686.24 87.46 L686.99 86.72 L687.74 85.77 L688.49 84.63 L689.24 83.30 L689.99 81.81 L690.75 80.16 L691.50 78.38 L692.25 76.47 L693.00 74.45 L693.75 72.35 L694.50 70.19 L695.25 67.98 L696.00 65.75 L696.76 63.66 L697.51 61.61 L698.26 59.59 L699.01 57.62 L699.76 55.71 L700.51 53.88 L701.26 52.14 L702.02 50.51 L702.77 49.00 L703.52 47.63 L704.27 46.39 L705.02 45.32 L705.77 44.40 L706.52 43.66 L707.27 43.09 L708.03 42.70 L708.78 42.50 L709.53 42.48 L710.28 42.65 L711.03 43.02 L711.78 43.58 L712.53 44.32 L713.28 45.24 L714.04 46.34 L714.79 47.59 L715.54 49.00 L716.29 50.54 L717.04 52.21 L717.79 54.00 L718.54 55.88 L719.29 57.84 L720.05 59.86 L720.80 61.94 L721.55 64.04 L722.30 66.83 L723.05 70.93 L723.80 74.97 L724.55 78.88 L725.31 82.62 L726.06 86.13 L726.81 89.38 L727.56 92.31 L728.31 94.88 L729.06 97.08 L729.81 98.86 L730.56 100.20 L731.32 101.09 L732.07 101.52 L732.82 101.43 L733.57 100.65 L734.32 99.18 L735.07 97.05 L735.82 94.30 L736.57 90.98 L737.33 87.16 L738.08 82.91 L738.83 78.33 L739.58 73.48 L740.33 68.48 L741.08 64.32 L741.83 61.52 L742.59 58.78 L743.34 56.13 L744.09 53.63 L744.84 51.31 L745.59 49.20 L746.34 47.33 L747.09 45.73 L747.84 44.43 L748.60 43.45 L749.35 42.80 L750.10 42.49 L750.85 42.50 L751.60 42.76" fill="none" stroke="#ff3535" stroke-width="1.05" stroke-dasharray="4.3 1.85 1.1 1.35" stroke-linejoin="round"/><text x="426.80" y="17.70" font-size="10.60" fill="#262626" text-anchor="end">2</text><text x="426.80" y="43.68" font-size="10.60" fill="#262626" text-anchor="end">1</text><text x="426.80" y="69.65" font-size="10.60" fill="#262626" text-anchor="end">0</text><text x="426.80" y="95.63" font-size="10.60" fill="#262626" text-anchor="end">-1</text><text x="426.80" y="121.60" font-size="10.60" fill="#262626" text-anchor="end">-2</text><text x="430.70" y="132.60" font-size="10.60" fill="#262626" text-anchor="middle">0</text><text x="517.90" y="132.60" font-size="10.60" fill="#262626" text-anchor="middle">0.5</text><text x="605.10" y="132.60" font-size="10.60" fill="#262626" text-anchor="middle">1</text><text x="692.30" y="132.60" font-size="10.60" fill="#262626" text-anchor="middle">1.5</text><text x="779.50" y="132.60" font-size="10.60" fill="#262626" text-anchor="middle">2</text><text x="753.65" y="150.50" font-size="12.4" fill="#262626" text-anchor="middle">×</text><text x="778.90" y="150.60" font-size="10.60" fill="#262626" text-anchor="end">10<tspan font-size="8.3" dy="-5.6">-5</tspan></text><text transform="translate(411.90 65.45) rotate(-90)" font-size="11.90" fill="#262626" text-anchor="middle">Amp. (v)</text><text id="t01_0" transform="translate(423.99 9.00) scale(1.0090 1)" font-size="11.85" font-weight="bold" fill="#000">FIR-based 2-Level wavelet implementation (Xilinx SysgenBlock)</text><rect x="665.10" y="20.60" width="107.6" height="27.7" fill="#fff" stroke="#262626" stroke-width="0.65"/><line x1="669.40" y1="28.30" x2="691.00" y2="28.30" stroke="#262626" stroke-width="0.85"/><line x1="669.40" y1="41.40" x2="691.10" y2="41.40" stroke="#ff3030" stroke-width="1.0" stroke-dasharray="4.3 1.85 1.1 1.35"/><text x="693.20" y="32.00" font-size="9.80" fill="#000">Simulated</text><text x="693.20" y="44.80" font-size="9.80" fill="#000">HW Co-simulated</text></g>
<g><line x1="113.85" y1="175.50" x2="113.85" y2="279.40" stroke="#e0e0e0" stroke-width="0.7"/><line x1="200.90" y1="175.50" x2="200.90" y2="279.40" stroke="#e0e0e0" stroke-width="0.7"/><line x1="287.95" y1="175.50" x2="287.95" y2="279.40" stroke="#e0e0e0" stroke-width="0.7"/><line x1="26.80" y1="201.47" x2="375.00" y2="201.47" stroke="#e0e0e0" stroke-width="0.7"/><line x1="26.80" y1="227.45" x2="375.00" y2="227.45" stroke="#e0e0e0" stroke-width="0.7"/><line x1="26.80" y1="253.43" x2="375.00" y2="253.43" stroke="#e0e0e0" stroke-width="0.7"/><line x1="26.80" y1="279.40" x2="26.80" y2="275.90" stroke="#262626" stroke-width="0.75"/><line x1="26.80" y1="175.50" x2="26.80" y2="179.00" stroke="#262626" stroke-width="0.75"/><line x1="26.80" y1="175.50" x2="30.30" y2="175.50" stroke="#262626" stroke-width="0.75"/><line x1="375.00" y1="175.50" x2="371.50" y2="175.50" stroke="#262626" stroke-width="0.75"/><line x1="113.85" y1="279.40" x2="113.85" y2="275.90" stroke="#262626" stroke-width="0.75"/><line x1="113.85" y1="175.50" x2="113.85" y2="179.00" stroke="#262626" stroke-width="0.75"/><line x1="26.80" y1="201.47" x2="30.30" y2="201.47" stroke="#262626" stroke-width="0.75"/><line x1="375.00" y1="201.47" x2="371.50" y2="201.47" stroke="#262626" stroke-width="0.75"/><line x1="200.90" y1="279.40" x2="200.90" y2="275.90" stroke="#262626" stroke-width="0.75"/><line x1="200.90" y1="175.50" x2="200.90" y2="179.00" stroke="#262626" stroke-width="0.75"/><line x1="26.80" y1="227.45" x2="30.30" y2="227.45" stroke="#262626" stroke-width="0.75"/><line x1="375.00" y1="227.45" x2="371.50" y2="227.45" stroke="#262626" stroke-width="0.75"/><line x1="287.95" y1="279.40" x2="287.95" y2="275.90" stroke="#262626" stroke-width="0.75"/><line x1="287.95" y1="175.50" x2="287.95" y2="179.00" stroke="#262626" stroke-width="0.75"/><line x1="26.80" y1="253.43" x2="30.30" y2="253.43" stroke="#262626" stroke-width="0.75"/><line x1="375.00" y1="253.43" x2="371.50" y2="253.43" stroke="#262626" stroke-width="0.75"/><line x1="375.00" y1="279.40" x2="375.00" y2="275.90" stroke="#262626" stroke-width="0.75"/><line x1="375.00" y1="175.50" x2="375.00" y2="179.00" stroke="#262626" stroke-width="0.75"/><line x1="26.80" y1="279.40" x2="30.30" y2="279.40" stroke="#262626" stroke-width="0.75"/><line x1="375.00" y1="279.40" x2="371.50" y2="279.40" stroke="#262626" stroke-width="0.75"/><rect x="26.80" y="175.50" width="348.20" height="103.90" fill="none" stroke="#262626" stroke-width="0.75"/><path d="M26.80 227.45 L33.05 227.45 L33.45 229.63 L34.20 233.69 L34.95 237.67 L35.70 241.52 L36.45 245.19 L37.20 248.63 L37.95 251.80 L38.70 254.66 L39.45 257.16 L40.20 259.29 L40.95 261.01 L41.70 262.30 L42.45 263.14 L43.20 263.53 L43.95 263.46 L44.70 262.99 L45.45 262.12 L46.20 260.86 L46.95 259.22 L47.70 257.22 L48.45 254.89 L49.20 252.25 L49.95 249.33 L50.70 246.16 L51.45 242.79 L52.20 239.24 L52.95 235.56 L53.70 231.78 L54.45 227.96 L55.20 223.82 L55.95 219.67 L56.70 215.63 L57.45 211.74 L58.20 208.07 L58.95 204.65 L59.70 201.54 L60.45 198.77 L61.20 196.39 L61.95 194.41 L62.70 192.88 L63.45 191.81 L64.20 191.22 L64.95 191.10 L65.70 191.43 L66.45 192.17 L67.20 193.33 L67.95 194.88 L68.70 196.82 L69.45 199.11 L70.20 201.74 L70.95 204.66 L71.70 207.85 L72.45 211.27 L73.20 214.88 L73.95 218.63 L74.70 222.49 L75.45 226.40 L76.20 229.06 L76.95 231.25 L77.70 233.40 L78.45 235.50 L79.20 237.52 L79.95 239.45 L80.70 241.27 L81.45 242.96 L82.20 244.51 L82.95 245.91 L83.70 247.13 L84.45 248.18 L85.20 249.03 L85.95 249.69 L86.70 250.15 L87.45 250.39 L88.20 250.42 L88.95 250.23 L89.70 249.81 L90.45 249.16 L91.20 248.28 L91.95 247.20 L92.70 245.92 L93.45 244.45 L94.20 242.81 L94.95 241.01 L95.70 239.08 L96.45 237.03 L97.20 234.88 L97.95 232.65 L98.70 230.37 L99.45 228.07 L100.20 225.96 L100.95 223.93 L101.70 221.94 L102.45 219.99 L103.20 218.09 L103.95 216.27 L104.70 214.54 L105.45 212.91 L106.20 211.39 L106.95 210.00 L107.70 208.74 L108.45 207.63 L109.20 206.68 L109.95 205.89 L110.70 205.27 L111.45 204.82 L112.20 204.55 L112.95 204.46 L113.70 204.56 L114.45 204.85 L115.20 205.33 L115.95 206.00 L116.70 206.85 L117.45 207.88 L118.20 209.07 L118.95 210.42 L119.70 211.91 L120.45 213.53 L121.20 215.27 L121.95 217.11 L122.70 219.05 L123.45 221.05 L124.20 223.10 L124.95 225.20 L125.70 227.31 L126.45 229.57 L127.20 231.82 L127.95 234.03 L128.70 236.18 L129.45 238.24 L130.20 240.19 L130.95 242.02 L131.70 243.70 L132.45 245.23 L133.20 246.58 L133.95 247.75 L134.70 248.72 L135.45 249.48 L136.20 250.02 L136.95 250.34 L137.70 250.44 L138.45 250.31 L139.20 249.97 L139.95 249.40 L140.70 248.63 L141.45 247.65 L142.20 246.48 L142.95 245.12 L143.70 243.60 L144.45 241.92 L145.20 240.10 L145.95 238.15 L146.70 236.11 L147.45 233.98 L148.20 231.79 L148.95 229.55 L149.70 227.31 L150.45 225.21 L151.20 223.14 L151.95 221.10 L152.70 219.11 L153.45 217.19 L154.20 215.36 L154.95 213.62 L155.70 212.01 L156.45 210.52 L157.20 209.17 L157.95 207.97 L158.70 206.94 L159.45 206.08 L160.20 205.40 L160.95 204.90 L161.70 204.59 L162.45 204.46 L163.20 204.54 L163.95 204.80 L164.70 205.26 L165.45 205.90 L166.20 206.73 L166.95 207.73 L167.70 208.90 L168.45 210.23 L169.20 211.70 L169.95 213.31 L170.70 215.03 L171.45 216.86 L172.20 218.78 L172.95 220.78 L173.70 222.83 L174.45 224.92 L175.20 227.03 L175.95 229.24 L176.70 231.46 L177.45 233.64 L178.20 235.76 L178.95 237.81 L179.70 239.75 L180.45 241.58 L181.20 243.28 L181.95 244.82 L182.70 246.20 L183.45 247.41 L184.20 248.42 L184.95 249.24 L185.70 249.85 L186.45 250.24 L187.20 250.43 L187.95 250.39 L188.70 250.13 L189.45 249.64 L190.20 248.94 L190.95 248.03 L191.70 246.91 L192.45 245.61 L193.20 244.13 L193.95 242.48 L194.70 240.69 L195.45 238.77 L196.20 236.74 L196.95 234.61 L197.70 232.42 L198.45 230.17 L199.20 227.91 L199.95 225.77 L200.70 223.69 L201.45 221.64 L202.20 219.63 L202.95 217.69 L203.70 215.84 L204.45 214.07 L205.20 212.43 L205.95 210.90 L206.70 209.51 L207.45 208.28 L208.20 207.20 L208.95 206.29 L209.70 205.56 L210.45 205.01 L211.20 204.65 L211.95 204.48 L212.70 204.50 L213.45 204.73 L214.20 205.16 L214.95 205.79 L215.70 206.62 L216.45 207.64 L217.20 208.84 L217.95 210.20 L218.70 211.72 L219.45 213.38 L220.20 215.17 L220.95 217.07 L221.70 219.06 L222.45 221.13 L223.20 223.25 L223.95 225.41 L224.70 227.71 L225.45 231.64 L226.20 235.52 L226.95 239.30 L227.70 242.95 L228.45 246.40 L229.20 249.64 L229.95 252.61 L230.70 255.28 L231.45 257.62 L232.20 259.60 L232.95 261.19 L233.70 262.39 L234.45 263.17 L235.20 263.53 L235.95 263.45 L236.70 262.93 L237.45 261.95 L238.20 260.54 L238.95 258.72 L239.70 256.50 L240.45 253.92 L241.20 251.00 L241.95 247.79 L242.70 244.32 L243.45 240.64 L244.20 236.79 L244.95 232.83 L245.70 228.80 L246.45 224.75 L247.20 220.74 L247.95 216.81 L248.70 213.01 L249.45 209.40 L250.20 206.01 L250.95 202.89 L251.70 200.08 L252.45 197.62 L253.20 195.53 L253.95 193.84 L254.70 192.58 L255.45 191.75 L256.20 191.37 L256.95 191.44 L257.70 191.94 L258.45 192.86 L259.20 194.19 L259.95 195.92 L260.70 198.03 L261.45 200.48 L262.20 203.25 L262.95 206.31 L263.70 209.63 L264.45 213.15 L265.20 216.84 L265.95 220.66 L266.70 224.56 L267.45 228.04 L268.20 230.25 L268.95 232.44 L269.70 234.58 L270.45 236.66 L271.20 238.64 L271.95 240.53 L272.70 242.29 L273.45 243.91 L274.20 245.38 L274.95 246.69 L275.70 247.81 L276.45 248.74 L277.20 249.48 L277.95 250.01 L278.70 250.33 L279.45 250.44 L280.20 250.33 L280.95 250.00 L281.70 249.46 L282.45 248.72 L283.20 247.77 L283.95 246.63 L284.70 245.30 L285.45 243.81 L286.20 242.16 L286.95 240.38 L287.70 238.47 L288.45 236.45 L289.20 234.35 L289.95 232.19 L290.70 229.98 L291.45 227.75 L292.20 225.66 L292.95 223.61 L293.70 221.59 L294.45 219.62 L295.20 217.71 L295.95 215.88 L296.70 214.14 L297.45 212.51 L298.20 211.00 L298.95 209.63 L299.70 208.39 L300.45 207.32 L301.20 206.40 L301.95 205.66 L302.70 205.09 L303.45 204.70 L304.20 204.50 L304.95 204.48 L305.70 204.65 L306.45 205.02 L307.20 205.58 L307.95 206.32 L308.70 207.24 L309.45 208.34 L310.20 209.59 L310.95 211.00 L311.70 212.54 L312.45 214.21 L313.20 216.00 L313.95 217.88 L314.70 219.84 L315.45 221.86 L316.20 223.94 L316.95 226.04 L317.70 228.83 L318.45 232.93 L319.20 236.97 L319.95 240.88 L320.70 244.62 L321.45 248.13 L322.20 251.38 L322.95 254.31 L323.70 256.88 L324.45 259.08 L325.20 260.86 L325.95 262.20 L326.70 263.09 L327.45 263.52 L328.20 263.43 L328.95 262.65 L329.70 261.18 L330.45 259.05 L331.20 256.30 L331.95 252.98 L332.70 249.16 L333.45 244.91 L334.20 240.33 L334.95 235.48 L335.70 230.48 L336.45 226.32 L337.20 223.52 L337.95 220.78 L338.70 218.13 L339.45 215.63 L340.20 213.31 L340.95 211.20 L341.70 209.33 L342.45 207.73 L343.20 206.43 L343.95 205.45 L344.70 204.80 L345.45 204.49 L346.20 204.50 L346.95 204.76" fill="none" stroke="#333" stroke-width="0.75" stroke-linejoin="round"/><path d="M26.80 227.45 L33.05 227.45 L33.45 229.63 L34.20 233.69 L34.95 237.67 L35.70 241.52 L36.45 245.19 L37.20 248.63 L37.95 251.80 L38.70 254.66 L39.45 257.16 L40.20 259.29 L40.95 261.01 L41.70 262.30 L42.45 263.14 L43.20 263.53 L43.95 263.46 L44.70 262.99 L45.45 262.12 L46.20 260.86 L46.95 259.22 L47.70 257.22 L48.45 254.89 L49.20 252.25 L49.95 249.33 L50.70 246.16 L51.45 242.79 L52.20 239.24 L52.95 235.56 L53.70 231.78 L54.45 227.96 L55.20 223.82 L55.95 219.67 L56.70 215.63 L57.45 211.74 L58.20 208.07 L58.95 204.65 L59.70 201.54 L60.45 198.77 L61.20 196.39 L61.95 194.41 L62.70 192.88 L63.45 191.81 L64.20 191.22 L64.95 191.10 L65.70 191.43 L66.45 192.17 L67.20 193.33 L67.95 194.88 L68.70 196.82 L69.45 199.11 L70.20 201.74 L70.95 204.66 L71.70 207.85 L72.45 211.27 L73.20 214.88 L73.95 218.63 L74.70 222.49 L75.45 226.40 L76.20 229.06 L76.95 231.25 L77.70 233.40 L78.45 235.50 L79.20 237.52 L79.95 239.45 L80.70 241.27 L81.45 242.96 L82.20 244.51 L82.95 245.91 L83.70 247.13 L84.45 248.18 L85.20 249.03 L85.95 249.69 L86.70 250.15 L87.45 250.39 L88.20 250.42 L88.95 250.23 L89.70 249.81 L90.45 249.16 L91.20 248.28 L91.95 247.20 L92.70 245.92 L93.45 244.45 L94.20 242.81 L94.95 241.01 L95.70 239.08 L96.45 237.03 L97.20 234.88 L97.95 232.65 L98.70 230.37 L99.45 228.07 L100.20 225.96 L100.95 223.93 L101.70 221.94 L102.45 219.99 L103.20 218.09 L103.95 216.27 L104.70 214.54 L105.45 212.91 L106.20 211.39 L106.95 210.00 L107.70 208.74 L108.45 207.63 L109.20 206.68 L109.95 205.89 L110.70 205.27 L111.45 204.82 L112.20 204.55 L112.95 204.46 L113.70 204.56 L114.45 204.85 L115.20 205.33 L115.95 206.00 L116.70 206.85 L117.45 207.88 L118.20 209.07 L118.95 210.42 L119.70 211.91 L120.45 213.53 L121.20 215.27 L121.95 217.11 L122.70 219.05 L123.45 221.05 L124.20 223.10 L124.95 225.20 L125.70 227.31 L126.45 229.57 L127.20 231.82 L127.95 234.03 L128.70 236.18 L129.45 238.24 L130.20 240.19 L130.95 242.02 L131.70 243.70 L132.45 245.23 L133.20 246.58 L133.95 247.75 L134.70 248.72 L135.45 249.48 L136.20 250.02 L136.95 250.34 L137.70 250.44 L138.45 250.31 L139.20 249.97 L139.95 249.40 L140.70 248.63 L141.45 247.65 L142.20 246.48 L142.95 245.12 L143.70 243.60 L144.45 241.92 L145.20 240.10 L145.95 238.15 L146.70 236.11 L147.45 233.98 L148.20 231.79 L148.95 229.55 L149.70 227.31 L150.45 225.21 L151.20 223.14 L151.95 221.10 L152.70 219.11 L153.45 217.19 L154.20 215.36 L154.95 213.62 L155.70 212.01 L156.45 210.52 L157.20 209.17 L157.95 207.97 L158.70 206.94 L159.45 206.08 L160.20 205.40 L160.95 204.90 L161.70 204.59 L162.45 204.46 L163.20 204.54 L163.95 204.80 L164.70 205.26 L165.45 205.90 L166.20 206.73 L166.95 207.73 L167.70 208.90 L168.45 210.23 L169.20 211.70 L169.95 213.31 L170.70 215.03 L171.45 216.86 L172.20 218.78 L172.95 220.78 L173.70 222.83 L174.45 224.92 L175.20 227.03 L175.95 229.24 L176.70 231.46 L177.45 233.64 L178.20 235.76 L178.95 237.81 L179.70 239.75 L180.45 241.58 L181.20 243.28 L181.95 244.82 L182.70 246.20 L183.45 247.41 L184.20 248.42 L184.95 249.24 L185.70 249.85 L186.45 250.24 L187.20 250.43 L187.95 250.39 L188.70 250.13 L189.45 249.64 L190.20 248.94 L190.95 248.03 L191.70 246.91 L192.45 245.61 L193.20 244.13 L193.95 242.48 L194.70 240.69 L195.45 238.77 L196.20 236.74 L196.95 234.61 L197.70 232.42 L198.45 230.17 L199.20 227.91 L199.95 225.77 L200.70 223.69 L201.45 221.64 L202.20 219.63 L202.95 217.69 L203.70 215.84 L204.45 214.07 L205.20 212.43 L205.95 210.90 L206.70 209.51 L207.45 208.28 L208.20 207.20 L208.95 206.29 L209.70 205.56 L210.45 205.01 L211.20 204.65 L211.95 204.48 L212.70 204.50 L213.45 204.73 L214.20 205.16 L214.95 205.79 L215.70 206.62 L216.45 207.64 L217.20 208.84 L217.95 210.20 L218.70 211.72 L219.45 213.38 L220.20 215.17 L220.95 217.07 L221.70 219.06 L222.45 221.13 L223.20 223.25 L223.95 225.41 L224.70 227.71 L225.45 231.64 L226.20 235.52 L226.95 239.30 L227.70 242.95 L228.45 246.40 L229.20 249.64 L229.95 252.61 L230.70 255.28 L231.45 257.62 L232.20 259.60 L232.95 261.19 L233.70 262.39 L234.45 263.17 L235.20 263.53 L235.95 263.45 L236.70 262.93 L237.45 261.95 L238.20 260.54 L238.95 258.72 L239.70 256.50 L240.45 253.92 L241.20 251.00 L241.95 247.79 L242.70 244.32 L243.45 240.64 L244.20 236.79 L244.95 232.83 L245.70 228.80 L246.45 224.75 L247.20 220.74 L247.95 216.81 L248.70 213.01 L249.45 209.40 L250.20 206.01 L250.95 202.89 L251.70 200.08 L252.45 197.62 L253.20 195.53 L253.95 193.84 L254.70 192.58 L255.45 191.75 L256.20 191.37 L256.95 191.44 L257.70 191.94 L258.45 192.86 L259.20 194.19 L259.95 195.92 L260.70 198.03 L261.45 200.48 L262.20 203.25 L262.95 206.31 L263.70 209.63 L264.45 213.15 L265.20 216.84 L265.95 220.66 L266.70 224.56 L267.45 228.04 L268.20 230.25 L268.95 232.44 L269.70 234.58 L270.45 236.66 L271.20 238.64 L271.95 240.53 L272.70 242.29 L273.45 243.91 L274.20 245.38 L274.95 246.69 L275.70 247.81 L276.45 248.74 L277.20 249.48 L277.95 250.01 L278.70 250.33 L279.45 250.44 L280.20 250.33 L280.95 250.00 L281.70 249.46 L282.45 248.72 L283.20 247.77 L283.95 246.63 L284.70 245.30 L285.45 243.81 L286.20 242.16 L286.95 240.38 L287.70 238.47 L288.45 236.45 L289.20 234.35 L289.95 232.19 L290.70 229.98 L291.45 227.75 L292.20 225.66 L292.95 223.61 L293.70 221.59 L294.45 219.62 L295.20 217.71 L295.95 215.88 L296.70 214.14 L297.45 212.51 L298.20 211.00 L298.95 209.63 L299.70 208.39 L300.45 207.32 L301.20 206.40 L301.95 205.66 L302.70 205.09 L303.45 204.70 L304.20 204.50 L304.95 204.48 L305.70 204.65 L306.45 205.02 L307.20 205.58 L307.95 206.32 L308.70 207.24 L309.45 208.34 L310.20 209.59 L310.95 211.00 L311.70 212.54 L312.45 214.21 L313.20 216.00 L313.95 217.88 L314.70 219.84 L315.45 221.86 L316.20 223.94 L316.95 226.04 L317.70 228.83 L318.45 232.93 L319.20 236.97 L319.95 240.88 L320.70 244.62 L321.45 248.13 L322.20 251.38 L322.95 254.31 L323.70 256.88 L324.45 259.08 L325.20 260.86 L325.95 262.20 L326.70 263.09 L327.45 263.52 L328.20 263.43 L328.95 262.65 L329.70 261.18 L330.45 259.05 L331.20 256.30 L331.95 252.98 L332.70 249.16 L333.45 244.91 L334.20 240.33 L334.95 235.48 L335.70 230.48 L336.45 226.32 L337.20 223.52 L337.95 220.78 L338.70 218.13 L339.45 215.63 L340.20 213.31 L340.95 211.20 L341.70 209.33 L342.45 207.73 L343.20 206.43 L343.95 205.45 L344.70 204.80 L345.45 204.49 L346.20 204.50 L346.95 204.76" fill="none" stroke="#ff3535" stroke-width="1.05" stroke-dasharray="4.3 1.85 1.1 1.35" stroke-linejoin="round"/><text x="22.90" y="179.70" font-size="10.60" fill="#262626" text-anchor="end">2</text><text x="22.90" y="205.67" font-size="10.60" fill="#262626" text-anchor="end">1</text><text x="22.90" y="231.65" font-size="10.60" fill="#262626" text-anchor="end">0</text><text x="22.90" y="257.62" font-size="10.60" fill="#262626" text-anchor="end">-1</text><text x="22.90" y="283.60" font-size="10.60" fill="#262626" text-anchor="end">-2</text><text x="26.80" y="294.60" font-size="10.60" fill="#262626" text-anchor="middle">0</text><text x="113.85" y="294.60" font-size="10.60" fill="#262626" text-anchor="middle">0.5</text><text x="200.90" y="294.60" font-size="10.60" fill="#262626" text-anchor="middle">1</text><text x="287.95" y="294.60" font-size="10.60" fill="#262626" text-anchor="middle">1.5</text><text x="375.00" y="294.60" font-size="10.60" fill="#262626" text-anchor="middle">2</text><text x="349.15" y="312.50" font-size="12.4" fill="#262626" text-anchor="middle">×</text><text x="374.40" y="312.60" font-size="10.60" fill="#262626" text-anchor="end">10<tspan font-size="8.3" dy="-5.6">-5</tspan></text><text transform="translate(8.00 227.45) rotate(-90)" font-size="11.90" fill="#262626" text-anchor="middle">Amp. (v)</text><text id="t10_0" transform="translate(126.65 165.70) scale(1.0000 1)" font-size="11.85" font-weight="bold" fill="#000">P</text><text id="t10_1" transform="translate(134.95 170.90) scale(1.0000 1)" font-size="8.40" font-weight="bold" fill="#000">7</text><text id="t10_2" transform="translate(142.43 165.70) scale(0.9606 1)" font-size="11.85" font-weight="bold" fill="#000">RNS-based 2-Level DWT</text><rect x="260.60" y="182.60" width="107.6" height="27.7" fill="#fff" stroke="#262626" stroke-width="0.65"/><line x1="264.90" y1="190.30" x2="286.50" y2="190.30" stroke="#262626" stroke-width="0.85"/><line x1="264.90" y1="203.40" x2="286.60" y2="203.40" stroke="#ff3030" stroke-width="1.0" stroke-dasharray="4.3 1.85 1.1 1.35"/><text x="288.70" y="194.00" font-size="9.80" fill="#000">Simulated</text><text x="288.70" y="206.80" font-size="9.80" fill="#000">HW Co-simulated</text></g>
<g><line x1="517.90" y1="175.50" x2="517.90" y2="279.40" stroke="#e0e0e0" stroke-width="0.7"/><line x1="605.10" y1="175.50" x2="605.10" y2="279.40" stroke="#e0e0e0" stroke-width="0.7"/><line x1="692.30" y1="175.50" x2="692.30" y2="279.40" stroke="#e0e0e0" stroke-width="0.7"/><line x1="430.70" y1="201.47" x2="779.50" y2="201.47" stroke="#e0e0e0" stroke-width="0.7"/><line x1="430.70" y1="227.45" x2="779.50" y2="227.45" stroke="#e0e0e0" stroke-width="0.7"/><line x1="430.70" y1="253.43" x2="779.50" y2="253.43" stroke="#e0e0e0" stroke-width="0.7"/><line x1="430.70" y1="279.40" x2="430.70" y2="275.90" stroke="#262626" stroke-width="0.75"/><line x1="430.70" y1="175.50" x2="430.70" y2="179.00" stroke="#262626" stroke-width="0.75"/><line x1="430.70" y1="175.50" x2="434.20" y2="175.50" stroke="#262626" stroke-width="0.75"/><line x1="779.50" y1="175.50" x2="776.00" y2="175.50" stroke="#262626" stroke-width="0.75"/><line x1="517.90" y1="279.40" x2="517.90" y2="275.90" stroke="#262626" stroke-width="0.75"/><line x1="517.90" y1="175.50" x2="517.90" y2="179.00" stroke="#262626" stroke-width="0.75"/><line x1="430.70" y1="201.47" x2="434.20" y2="201.47" stroke="#262626" stroke-width="0.75"/><line x1="779.50" y1="201.47" x2="776.00" y2="201.47" stroke="#262626" stroke-width="0.75"/><line x1="605.10" y1="279.40" x2="605.10" y2="275.90" stroke="#262626" stroke-width="0.75"/><line x1="605.10" y1="175.50" x2="605.10" y2="179.00" stroke="#262626" stroke-width="0.75"/><line x1="430.70" y1="227.45" x2="434.20" y2="227.45" stroke="#262626" stroke-width="0.75"/><line x1="779.50" y1="227.45" x2="776.00" y2="227.45" stroke="#262626" stroke-width="0.75"/><line x1="692.30" y1="279.40" x2="692.30" y2="275.90" stroke="#262626" stroke-width="0.75"/><line x1="692.30" y1="175.50" x2="692.30" y2="179.00" stroke="#262626" stroke-width="0.75"/><line x1="430.70" y1="253.43" x2="434.20" y2="253.43" stroke="#262626" stroke-width="0.75"/><line x1="779.50" y1="253.43" x2="776.00" y2="253.43" stroke="#262626" stroke-width="0.75"/><line x1="779.50" y1="279.40" x2="779.50" y2="275.90" stroke="#262626" stroke-width="0.75"/><line x1="779.50" y1="175.50" x2="779.50" y2="179.00" stroke="#262626" stroke-width="0.75"/><line x1="430.70" y1="279.40" x2="434.20" y2="279.40" stroke="#262626" stroke-width="0.75"/><line x1="779.50" y1="279.40" x2="776.00" y2="279.40" stroke="#262626" stroke-width="0.75"/><rect x="430.70" y="175.50" width="348.80" height="103.90" fill="none" stroke="#262626" stroke-width="0.75"/><path d="M430.70 227.45 L437.31 227.45 L437.71 229.63 L438.46 233.69 L439.21 237.67 L439.96 241.52 L440.72 245.19 L441.47 248.63 L442.22 251.80 L442.97 254.66 L443.72 257.16 L444.47 259.29 L445.22 261.01 L445.97 262.30 L446.73 263.14 L447.48 263.53 L448.23 263.46 L448.98 262.99 L449.73 262.12 L450.48 260.86 L451.23 259.22 L451.98 257.22 L452.74 254.89 L453.49 252.25 L454.24 249.33 L454.99 246.16 L455.74 242.79 L456.49 239.24 L457.24 235.56 L458.00 231.78 L458.75 227.96 L459.50 223.82 L460.25 219.67 L461.00 215.63 L461.75 211.74 L462.50 208.07 L463.25 204.65 L464.01 201.54 L464.76 198.77 L465.51 196.39 L466.26 194.41 L467.01 192.88 L467.76 191.81 L468.51 191.22 L469.26 191.10 L470.02 191.43 L470.77 192.17 L471.52 193.33 L472.27 194.88 L473.02 196.82 L473.77 199.11 L474.52 201.74 L475.27 204.66 L476.03 207.85 L476.78 211.27 L477.53 214.88 L478.28 218.63 L479.03 222.49 L479.78 226.40 L480.53 229.06 L481.29 231.25 L482.04 233.40 L482.79 235.50 L483.54 237.52 L484.29 239.45 L485.04 241.27 L485.79 242.96 L486.54 244.51 L487.30 245.91 L488.05 247.13 L488.80 248.18 L489.55 249.03 L490.30 249.69 L491.05 250.15 L491.80 250.39 L492.55 250.42 L493.31 250.23 L494.06 249.81 L494.81 249.16 L495.56 248.28 L496.31 247.20 L497.06 245.92 L497.81 244.45 L498.57 242.81 L499.32 241.01 L500.07 239.08 L500.82 237.03 L501.57 234.88 L502.32 232.65 L503.07 230.37 L503.82 228.07 L504.58 225.96 L505.33 223.93 L506.08 221.94 L506.83 219.99 L507.58 218.09 L508.33 216.27 L509.08 214.54 L509.83 212.91 L510.59 211.39 L511.34 210.00 L512.09 208.74 L512.84 207.63 L513.59 206.68 L514.34 205.89 L515.09 205.27 L515.84 204.82 L516.60 204.55 L517.35 204.46 L518.10 204.56 L518.85 204.85 L519.60 205.33 L520.35 206.00 L521.10 206.85 L521.86 207.88 L522.61 209.07 L523.36 210.42 L524.11 211.91 L524.86 213.53 L525.61 215.27 L526.36 217.11 L527.11 219.05 L527.87 221.05 L528.62 223.10 L529.37 225.20 L530.12 227.31 L530.87 229.57 L531.62 231.82 L532.37 234.03 L533.12 236.18 L533.88 238.24 L534.63 240.19 L535.38 242.02 L536.13 243.70 L536.88 245.23 L537.63 246.58 L538.38 247.75 L539.13 248.72 L539.89 249.48 L540.64 250.02 L541.39 250.34 L542.14 250.44 L542.89 250.31 L543.64 249.97 L544.39 249.40 L545.15 248.63 L545.90 247.65 L546.65 246.48 L547.40 245.12 L548.15 243.60 L548.90 241.92 L549.65 240.10 L550.40 238.15 L551.16 236.11 L551.91 233.98 L552.66 231.79 L553.41 229.55 L554.16 227.31 L554.91 225.21 L555.66 223.14 L556.41 221.10 L557.17 219.11 L557.92 217.19 L558.67 215.36 L559.42 213.62 L560.17 212.01 L560.92 210.52 L561.67 209.17 L562.42 207.97 L563.18 206.94 L563.93 206.08 L564.68 205.40 L565.43 204.90 L566.18 204.59 L566.93 204.46 L567.68 204.54 L568.44 204.80 L569.19 205.26 L569.94 205.90 L570.69 206.73 L571.44 207.73 L572.19 208.90 L572.94 210.23 L573.69 211.70 L574.45 213.31 L575.20 215.03 L575.95 216.86 L576.70 218.78 L577.45 220.78 L578.20 222.83 L578.95 224.92 L579.70 227.03 L580.46 229.24 L581.21 231.46 L581.96 233.64 L582.71 235.76 L583.46 237.81 L584.21 239.75 L584.96 241.58 L585.71 243.28 L586.47 244.82 L587.22 246.20 L587.97 247.41 L588.72 248.42 L589.47 249.24 L590.22 249.85 L590.97 250.24 L591.73 250.43 L592.48 250.39 L593.23 250.13 L593.98 249.64 L594.73 248.94 L595.48 248.03 L596.23 246.91 L596.98 245.61 L597.74 244.13 L598.49 242.48 L599.24 240.69 L599.99 238.77 L600.74 236.74 L601.49 234.61 L602.24 232.42 L602.99 230.17 L603.75 227.91 L604.50 225.77 L605.25 223.69 L606.00 221.64 L606.75 219.63 L607.50 217.69 L608.25 215.84 L609.00 214.07 L609.76 212.43 L610.51 210.90 L611.26 209.51 L612.01 208.28 L612.76 207.20 L613.51 206.29 L614.26 205.56 L615.02 205.01 L615.77 204.65 L616.52 204.48 L617.27 204.50 L618.02 204.73 L618.77 205.16 L619.52 205.79 L620.27 206.62 L621.03 207.64 L621.78 208.84 L622.53 210.20 L623.28 211.72 L624.03 213.38 L624.78 215.17 L625.53 217.07 L626.28 219.06 L627.04 221.13 L627.79 223.25 L628.54 225.41 L629.29 227.71 L630.04 231.64 L630.79 235.52 L631.54 239.30 L632.30 242.95 L633.05 246.40 L633.80 249.64 L634.55 252.61 L635.30 255.28 L636.05 257.62 L636.80 259.60 L637.55 261.19 L638.31 262.39 L639.06 263.17 L639.81 263.53 L640.56 263.45 L641.31 262.93 L642.06 261.95 L642.81 260.54 L643.56 258.72 L644.32 256.50 L645.07 253.92 L645.82 251.00 L646.57 247.79 L647.32 244.32 L648.07 240.64 L648.82 236.79 L649.57 232.83 L650.33 228.80 L651.08 224.75 L651.83 220.74 L652.58 216.81 L653.33 213.01 L654.08 209.40 L654.83 206.01 L655.59 202.89 L656.34 200.08 L657.09 197.62 L657.84 195.53 L658.59 193.84 L659.34 192.58 L660.09 191.75 L660.84 191.37 L661.60 191.44 L662.35 191.94 L663.10 192.86 L663.85 194.19 L664.60 195.92 L665.35 198.03 L666.10 200.48 L666.85 203.25 L667.61 206.31 L668.36 209.63 L669.11 213.15 L669.86 216.84 L670.61 220.66 L671.36 224.56 L672.11 228.04 L672.86 230.25 L673.62 232.44 L674.37 234.58 L675.12 236.66 L675.87 238.64 L676.62 240.53 L677.37 242.29 L678.12 243.91 L678.88 245.38 L679.63 246.69 L680.38 247.81 L681.13 248.74 L681.88 249.48 L682.63 250.01 L683.38 250.33 L684.13 250.44 L684.89 250.33 L685.64 250.00 L686.39 249.46 L687.14 248.72 L687.89 247.77 L688.64 246.63 L689.39 245.30 L690.14 243.81 L690.90 242.16 L691.65 240.38 L692.40 238.47 L693.15 236.45 L693.90 234.35 L694.65 232.19 L695.40 229.98 L696.15 227.75 L696.91 225.66 L697.66 223.61 L698.41 221.59 L699.16 219.62 L699.91 217.71 L700.66 215.88 L701.41 214.14 L702.17 212.51 L702.92 211.00 L703.67 209.63 L704.42 208.39 L705.17 207.32 L705.92 206.40 L706.67 205.66 L707.42 205.09 L708.18 204.70 L708.93 204.50 L709.68 204.48 L710.43 204.65 L711.18 205.02 L711.93 205.58 L712.68 206.32 L713.43 207.24 L714.19 208.34 L714.94 209.59 L715.69 211.00 L716.44 212.54 L717.19 214.21 L717.94 216.00 L718.69 217.88 L719.44 219.84 L720.20 221.86 L720.95 223.94 L721.70 226.04 L722.45 228.83 L723.20 232.93 L723.95 236.97 L724.70 240.88 L725.46 244.62 L726.21 248.13 L726.96 251.38 L727.71 254.31 L728.46 256.88 L729.21 259.08 L729.96 260.86 L730.71 262.20 L731.47 263.09 L732.22 263.52 L732.97 263.43 L733.72 262.65 L734.47 261.18 L735.22 259.05 L735.97 256.30 L736.72 252.98 L737.48 249.16 L738.23 244.91 L738.98 240.33 L739.73 235.48 L740.48 230.48 L741.23 226.32 L741.98 223.52 L742.74 220.78 L743.49 218.13 L744.24 215.63 L744.99 213.31 L745.74 211.20 L746.49 209.33 L747.24 207.73 L747.99 206.43 L748.75 205.45 L749.50 204.80 L750.25 204.49 L751.00 204.50 L751.75 204.76" fill="none" stroke="#333" stroke-width="0.75" stroke-linejoin="round"/><path d="M430.70 227.45 L437.31 227.45 L437.71 229.63 L438.46 233.69 L439.21 237.67 L439.96 241.52 L440.72 245.19 L441.47 248.63 L442.22 251.80 L442.97 254.66 L443.72 257.16 L444.47 259.29 L445.22 261.01 L445.97 262.30 L446.73 263.14 L447.48 263.53 L448.23 263.46 L448.98 262.99 L449.73 262.12 L450.48 260.86 L451.23 259.22 L451.98 257.22 L452.74 254.89 L453.49 252.25 L454.24 249.33 L454.99 246.16 L455.74 242.79 L456.49 239.24 L457.24 235.56 L458.00 231.78 L458.75 227.96 L459.50 223.82 L460.25 219.67 L461.00 215.63 L461.75 211.74 L462.50 208.07 L463.25 204.65 L464.01 201.54 L464.76 198.77 L465.51 196.39 L466.26 194.41 L467.01 192.88 L467.76 191.81 L468.51 191.22 L469.26 191.10 L470.02 191.43 L470.77 192.17 L471.52 193.33 L472.27 194.88 L473.02 196.82 L473.77 199.11 L474.52 201.74 L475.27 204.66 L476.03 207.85 L476.78 211.27 L477.53 214.88 L478.28 218.63 L479.03 222.49 L479.78 226.40 L480.53 229.06 L481.29 231.25 L482.04 233.40 L482.79 235.50 L483.54 237.52 L484.29 239.45 L485.04 241.27 L485.79 242.96 L486.54 244.51 L487.30 245.91 L488.05 247.13 L488.80 248.18 L489.55 249.03 L490.30 249.69 L491.05 250.15 L491.80 250.39 L492.55 250.42 L493.31 250.23 L494.06 249.81 L494.81 249.16 L495.56 248.28 L496.31 247.20 L497.06 245.92 L497.81 244.45 L498.57 242.81 L499.32 241.01 L500.07 239.08 L500.82 237.03 L501.57 234.88 L502.32 232.65 L503.07 230.37 L503.82 228.07 L504.58 225.96 L505.33 223.93 L506.08 221.94 L506.83 219.99 L507.58 218.09 L508.33 216.27 L509.08 214.54 L509.83 212.91 L510.59 211.39 L511.34 210.00 L512.09 208.74 L512.84 207.63 L513.59 206.68 L514.34 205.89 L515.09 205.27 L515.84 204.82 L516.60 204.55 L517.35 204.46 L518.10 204.56 L518.85 204.85 L519.60 205.33 L520.35 206.00 L521.10 206.85 L521.86 207.88 L522.61 209.07 L523.36 210.42 L524.11 211.91 L524.86 213.53 L525.61 215.27 L526.36 217.11 L527.11 219.05 L527.87 221.05 L528.62 223.10 L529.37 225.20 L530.12 227.31 L530.87 229.57 L531.62 231.82 L532.37 234.03 L533.12 236.18 L533.88 238.24 L534.63 240.19 L535.38 242.02 L536.13 243.70 L536.88 245.23 L537.63 246.58 L538.38 247.75 L539.13 248.72 L539.89 249.48 L540.64 250.02 L541.39 250.34 L542.14 250.44 L542.89 250.31 L543.64 249.97 L544.39 249.40 L545.15 248.63 L545.90 247.65 L546.65 246.48 L547.40 245.12 L548.15 243.60 L548.90 241.92 L549.65 240.10 L550.40 238.15 L551.16 236.11 L551.91 233.98 L552.66 231.79 L553.41 229.55 L554.16 227.31 L554.91 225.21 L555.66 223.14 L556.41 221.10 L557.17 219.11 L557.92 217.19 L558.67 215.36 L559.42 213.62 L560.17 212.01 L560.92 210.52 L561.67 209.17 L562.42 207.97 L563.18 206.94 L563.93 206.08 L564.68 205.40 L565.43 204.90 L566.18 204.59 L566.93 204.46 L567.68 204.54 L568.44 204.80 L569.19 205.26 L569.94 205.90 L570.69 206.73 L571.44 207.73 L572.19 208.90 L572.94 210.23 L573.69 211.70 L574.45 213.31 L575.20 215.03 L575.95 216.86 L576.70 218.78 L577.45 220.78 L578.20 222.83 L578.95 224.92 L579.70 227.03 L580.46 229.24 L581.21 231.46 L581.96 233.64 L582.71 235.76 L583.46 237.81 L584.21 239.75 L584.96 241.58 L585.71 243.28 L586.47 244.82 L587.22 246.20 L587.97 247.41 L588.72 248.42 L589.47 249.24 L590.22 249.85 L590.97 250.24 L591.73 250.43 L592.48 250.39 L593.23 250.13 L593.98 249.64 L594.73 248.94 L595.48 248.03 L596.23 246.91 L596.98 245.61 L597.74 244.13 L598.49 242.48 L599.24 240.69 L599.99 238.77 L600.74 236.74 L601.49 234.61 L602.24 232.42 L602.99 230.17 L603.75 227.91 L604.50 225.77 L605.25 223.69 L606.00 221.64 L606.75 219.63 L607.50 217.69 L608.25 215.84 L609.00 214.07 L609.76 212.43 L610.51 210.90 L611.26 209.51 L612.01 208.28 L612.76 207.20 L613.51 206.29 L614.26 205.56 L615.02 205.01 L615.77 204.65 L616.52 204.48 L617.27 204.50 L618.02 204.73 L618.77 205.16 L619.52 205.79 L620.27 206.62 L621.03 207.64 L621.78 208.84 L622.53 210.20 L623.28 211.72 L624.03 213.38 L624.78 215.17 L625.53 217.07 L626.28 219.06 L627.04 221.13 L627.79 223.25 L628.54 225.41 L629.29 227.71 L630.04 231.64 L630.79 235.52 L631.54 239.30 L632.30 242.95 L633.05 246.40 L633.80 249.64 L634.55 252.61 L635.30 255.28 L636.05 257.62 L636.80 259.60 L637.55 261.19 L638.31 262.39 L639.06 263.17 L639.81 263.53 L640.56 263.45 L641.31 262.93 L642.06 261.95 L642.81 260.54 L643.56 258.72 L644.32 256.50 L645.07 253.92 L645.82 251.00 L646.57 247.79 L647.32 244.32 L648.07 240.64 L648.82 236.79 L649.57 232.83 L650.33 228.80 L651.08 224.75 L651.83 220.74 L652.58 216.81 L653.33 213.01 L654.08 209.40 L654.83 206.01 L655.59 202.89 L656.34 200.08 L657.09 197.62 L657.84 195.53 L658.59 193.84 L659.34 192.58 L660.09 191.75 L660.84 191.37 L661.60 191.44 L662.35 191.94 L663.10 192.86 L663.85 194.19 L664.60 195.92 L665.35 198.03 L666.10 200.48 L666.85 203.25 L667.61 206.31 L668.36 209.63 L669.11 213.15 L669.86 216.84 L670.61 220.66 L671.36 224.56 L672.11 228.04 L672.86 230.25 L673.62 232.44 L674.37 234.58 L675.12 236.66 L675.87 238.64 L676.62 240.53 L677.37 242.29 L678.12 243.91 L678.88 245.38 L679.63 246.69 L680.38 247.81 L681.13 248.74 L681.88 249.48 L682.63 250.01 L683.38 250.33 L684.13 250.44 L684.89 250.33 L685.64 250.00 L686.39 249.46 L687.14 248.72 L687.89 247.77 L688.64 246.63 L689.39 245.30 L690.14 243.81 L690.90 242.16 L691.65 240.38 L692.40 238.47 L693.15 236.45 L693.90 234.35 L694.65 232.19 L695.40 229.98 L696.15 227.75 L696.91 225.66 L697.66 223.61 L698.41 221.59 L699.16 219.62 L699.91 217.71 L700.66 215.88 L701.41 214.14 L702.17 212.51 L702.92 211.00 L703.67 209.63 L704.42 208.39 L705.17 207.32 L705.92 206.40 L706.67 205.66 L707.42 205.09 L708.18 204.70 L708.93 204.50 L709.68 204.48 L710.43 204.65 L711.18 205.02 L711.93 205.58 L712.68 206.32 L713.43 207.24 L714.19 208.34 L714.94 209.59 L715.69 211.00 L716.44 212.54 L717.19 214.21 L717.94 216.00 L718.69 217.88 L719.44 219.84 L720.20 221.86 L720.95 223.94 L721.70 226.04 L722.45 228.83 L723.20 232.93 L723.95 236.97 L724.70 240.88 L725.46 244.62 L726.21 248.13 L726.96 251.38 L727.71 254.31 L728.46 256.88 L729.21 259.08 L729.96 260.86 L730.71 262.20 L731.47 263.09 L732.22 263.52 L732.97 263.43 L733.72 262.65 L734.47 261.18 L735.22 259.05 L735.97 256.30 L736.72 252.98 L737.48 249.16 L738.23 244.91 L738.98 240.33 L739.73 235.48 L740.48 230.48 L741.23 226.32 L741.98 223.52 L742.74 220.78 L743.49 218.13 L744.24 215.63 L744.99 213.31 L745.74 211.20 L746.49 209.33 L747.24 207.73 L747.99 206.43 L748.75 205.45 L749.50 204.80 L750.25 204.49 L751.00 204.50 L751.75 204.76" fill="none" stroke="#ff3535" stroke-width="1.05" stroke-dasharray="4.3 1.85 1.1 1.35" stroke-linejoin="round"/><text x="426.80" y="179.70" font-size="10.60" fill="#262626" text-anchor="end">2</text><text x="426.80" y="205.67" font-size="10.60" fill="#262626" text-anchor="end">1</text><text x="426.80" y="231.65" font-size="10.60" fill="#262626" text-anchor="end">0</text><text x="426.80" y="257.62" font-size="10.60" fill="#262626" text-anchor="end">-1</text><text x="426.80" y="283.60" font-size="10.60" fill="#262626" text-anchor="end">-2</text><text x="430.70" y="294.60" font-size="10.60" fill="#262626" text-anchor="middle">0</text><text x="517.90" y="294.60" font-size="10.60" fill="#262626" text-anchor="middle">0.5</text><text x="605.10" y="294.60" font-size="10.60" fill="#262626" text-anchor="middle">1</text><text x="692.30" y="294.60" font-size="10.60" fill="#262626" text-anchor="middle">1.5</text><text x="779.50" y="294.60" font-size="10.60" fill="#262626" text-anchor="middle">2</text><text x="753.65" y="312.50" font-size="12.4" fill="#262626" text-anchor="middle">×</text><text x="778.90" y="312.60" font-size="10.60" fill="#262626" text-anchor="end">10<tspan font-size="8.3" dy="-5.6">-5</tspan></text><text transform="translate(411.90 227.45) rotate(-90)" font-size="11.90" fill="#262626" text-anchor="middle">Amp. (v)</text><text id="t11_0" transform="translate(528.05 165.70) scale(1.0000 1)" font-size="11.85" font-weight="bold" fill="#000">P</text><text id="t11_1" transform="translate(536.60 170.90) scale(1.0000 1)" font-size="8.40" font-weight="bold" fill="#000">10</text><text id="t11_2" transform="translate(549.03 165.70) scale(0.9676 1)" font-size="11.85" font-weight="bold" fill="#000">RNS-based 2-Level DWT</text><rect x="665.10" y="182.60" width="107.6" height="27.7" fill="#fff" stroke="#262626" stroke-width="0.65"/><line x1="669.40" y1="190.30" x2="691.00" y2="190.30" stroke="#262626" stroke-width="0.85"/><line x1="669.40" y1="203.40" x2="691.10" y2="203.40" stroke="#ff3030" stroke-width="1.0" stroke-dasharray="4.3 1.85 1.1 1.35"/><text x="693.20" y="194.00" font-size="9.80" fill="#000">Simulated</text><text x="693.20" y="206.80" font-size="9.80" fill="#000">HW Co-simulated</text></g>
<g><line x1="113.85" y1="337.50" x2="113.85" y2="441.40" stroke="#e0e0e0" stroke-width="0.7"/><line x1="200.90" y1="337.50" x2="200.90" y2="441.40" stroke="#e0e0e0" stroke-width="0.7"/><line x1="287.95" y1="337.50" x2="287.95" y2="441.40" stroke="#e0e0e0" stroke-width="0.7"/><line x1="26.80" y1="363.48" x2="375.00" y2="363.48" stroke="#e0e0e0" stroke-width="0.7"/><line x1="26.80" y1="389.45" x2="375.00" y2="389.45" stroke="#e0e0e0" stroke-width="0.7"/><line x1="26.80" y1="415.43" x2="375.00" y2="415.43" stroke="#e0e0e0" stroke-width="0.7"/><line x1="26.80" y1="441.40" x2="26.80" y2="437.90" stroke="#262626" stroke-width="0.75"/><line x1="26.80" y1="337.50" x2="26.80" y2="341.00" stroke="#262626" stroke-width="0.75"/><line x1="26.80" y1="337.50" x2="30.30" y2="337.50" stroke="#262626" stroke-width="0.75"/><line x1="375.00" y1="337.50" x2="371.50" y2="337.50" stroke="#262626" stroke-width="0.75"/><line x1="113.85" y1="441.40" x2="113.85" y2="437.90" stroke="#262626" stroke-width="0.75"/><line x1="113.85" y1="337.50" x2="113.85" y2="341.00" stroke="#262626" stroke-width="0.75"/><line x1="26.80" y1="363.48" x2="30.30" y2="363.48" stroke="#262626" stroke-width="0.75"/><line x1="375.00" y1="363.48" x2="371.50" y2="363.48" stroke="#262626" stroke-width="0.75"/><line x1="200.90" y1="441.40" x2="200.90" y2="437.90" stroke="#262626" stroke-width="0.75"/><line x1="200.90" y1="337.50" x2="200.90" y2="341.00" stroke="#262626" stroke-width="0.75"/><line x1="26.80" y1="389.45" x2="30.30" y2="389.45" stroke="#262626" stroke-width="0.75"/><line x1="375.00" y1="389.45" x2="371.50" y2="389.45" stroke="#262626" stroke-width="0.75"/><line x1="287.95" y1="441.40" x2="287.95" y2="437.90" stroke="#262626" stroke-width="0.75"/><line x1="287.95" y1="337.50" x2="287.95" y2="341.00" stroke="#262626" stroke-width="0.75"/><line x1="26.80" y1="415.43" x2="30.30" y2="415.43" stroke="#262626" stroke-width="0.75"/><line x1="375.00" y1="415.43" x2="371.50" y2="415.43" stroke="#262626" stroke-width="0.75"/><line x1="375.00" y1="441.40" x2="375.00" y2="437.90" stroke="#262626" stroke-width="0.75"/><line x1="375.00" y1="337.50" x2="375.00" y2="341.00" stroke="#262626" stroke-width="0.75"/><line x1="26.80" y1="441.40" x2="30.30" y2="441.40" stroke="#262626" stroke-width="0.75"/><line x1="375.00" y1="441.40" x2="371.50" y2="441.40" stroke="#262626" stroke-width="0.75"/><rect x="26.80" y="337.50" width="348.20" height="103.90" fill="none" stroke="#262626" stroke-width="0.75"/><path d="M26.80 389.45 L31.70 389.45 L32.10 391.63 L32.85 395.69 L33.60 399.67 L34.35 403.52 L35.10 407.19 L35.85 410.63 L36.60 413.80 L37.35 416.66 L38.10 419.16 L38.85 421.29 L39.60 423.01 L40.35 424.30 L41.10 425.14 L41.85 425.53 L42.60 425.46 L43.35 424.99 L44.10 424.12 L44.85 422.86 L45.60 421.22 L46.35 419.22 L47.10 416.89 L47.85 414.25 L48.60 411.33 L49.35 408.16 L50.10 404.79 L50.85 401.24 L51.60 397.56 L52.35 393.78 L53.10 389.96 L53.85 385.82 L54.60 381.67 L55.35 377.63 L56.10 373.74 L56.85 370.07 L57.60 366.65 L58.35 363.54 L59.10 360.77 L59.85 358.39 L60.60 356.41 L61.35 354.88 L62.10 353.81 L62.85 353.22 L63.60 353.10 L64.35 353.43 L65.10 354.17 L65.85 355.33 L66.60 356.88 L67.35 358.82 L68.10 361.11 L68.85 363.74 L69.60 366.66 L70.35 369.85 L71.10 373.27 L71.85 376.88 L72.60 380.63 L73.35 384.49 L74.10 388.40 L74.85 391.06 L75.60 393.25 L76.35 395.40 L77.10 397.50 L77.85 399.52 L78.60 401.45 L79.35 403.27 L80.10 404.96 L80.85 406.51 L81.60 407.91 L82.35 409.13 L83.10 410.18 L83.85 411.03 L84.60 411.69 L85.35 412.15 L86.10 412.39 L86.85 412.42 L87.60 412.23 L88.35 411.81 L89.10 411.16 L89.85 410.28 L90.60 409.20 L91.35 407.92 L92.10 406.45 L92.85 404.81 L93.60 403.01 L94.35 401.08 L95.10 399.03 L95.85 396.88 L96.60 394.65 L97.35 392.37 L98.10 390.07 L98.85 387.96 L99.60 385.93 L100.35 383.94 L101.10 381.99 L101.85 380.09 L102.60 378.27 L103.35 376.54 L104.10 374.91 L104.85 373.39 L105.60 372.00 L106.35 370.74 L107.10 369.63 L107.85 368.68 L108.60 367.89 L109.35 367.27 L110.10 366.82 L110.85 366.55 L111.60 366.46 L112.35 366.56 L113.10 366.85 L113.85 367.33 L114.60 368.00 L115.35 368.85 L116.10 369.88 L116.85 371.07 L117.60 372.42 L118.35 373.91 L119.10 375.53 L119.85 377.27 L120.60 379.11 L121.35 381.05 L122.10 383.05 L122.85 385.10 L123.60 387.20 L124.35 389.31 L125.10 391.57 L125.85 393.82 L126.60 396.03 L127.35 398.18 L128.10 400.24 L128.85 402.19 L129.60 404.02 L130.35 405.70 L131.10 407.23 L131.85 408.58 L132.60 409.75 L133.35 410.72 L134.10 411.48 L134.85 412.02 L135.60 412.34 L136.35 412.44 L137.10 412.31 L137.85 411.97 L138.60 411.40 L139.35 410.63 L140.10 409.65 L140.85 408.48 L141.60 407.12 L142.35 405.60 L143.10 403.92 L143.85 402.10 L144.60 400.15 L145.35 398.11 L146.10 395.98 L146.85 393.79 L147.60 391.55 L148.35 389.31 L149.10 387.21 L149.85 385.14 L150.60 383.10 L151.35 381.11 L152.10 379.19 L152.85 377.36 L153.60 375.62 L154.35 374.01 L155.10 372.52 L155.85 371.17 L156.60 369.97 L157.35 368.94 L158.10 368.08 L158.85 367.40 L159.60 366.90 L160.35 366.59 L161.10 366.46 L161.85 366.54 L162.60 366.80 L163.35 367.26 L164.10 367.90 L164.85 368.73 L165.60 369.73 L166.35 370.90 L167.10 372.23 L167.85 373.70 L168.60 375.31 L169.35 377.03 L170.10 378.86 L170.85 380.78 L171.60 382.78 L172.35 384.83 L173.10 386.92 L173.85 389.03 L174.60 391.24 L175.35 393.46 L176.10 395.64 L176.85 397.76 L177.60 399.81 L178.35 401.75 L179.10 403.58 L179.85 405.28 L180.60 406.82 L181.35 408.20 L182.10 409.41 L182.85 410.42 L183.60 411.24 L184.35 411.85 L185.10 412.24 L185.85 412.43 L186.60 412.39 L187.35 412.13 L188.10 411.64 L188.85 410.94 L189.60 410.03 L190.35 408.91 L191.10 407.61 L191.85 406.13 L192.60 404.48 L193.35 402.69 L194.10 400.77 L194.85 398.74 L195.60 396.61 L196.35 394.42 L197.10 392.17 L197.85 389.91 L198.60 387.77 L199.35 385.69 L200.10 383.64 L200.85 381.63 L201.60 379.69 L202.35 377.84 L203.10 376.07 L203.85 374.43 L204.60 372.90 L205.35 371.51 L206.10 370.28 L206.85 369.20 L207.60 368.29 L208.35 367.56 L209.10 367.01 L209.85 366.65 L210.60 366.48 L211.35 366.50 L212.10 366.73 L212.85 367.16 L213.60 367.79 L214.35 368.62 L215.10 369.64 L215.85 370.84 L216.60 372.20 L217.35 373.72 L218.10 375.38 L218.85 377.17 L219.60 379.07 L220.35 381.06 L221.10 383.13 L221.85 385.25 L222.60 387.41 L223.35 389.71 L224.10 393.64 L224.85 397.52 L225.60 401.30 L226.35 404.95 L227.10 408.40 L227.85 411.64 L228.60 414.61 L229.35 417.28 L230.10 419.62 L230.85 421.60 L231.60 423.19 L232.35 424.39 L233.10 425.17 L233.85 425.53 L234.60 425.45 L235.35 424.93 L236.10 423.95 L236.85 422.54 L237.60 420.72 L238.35 418.50 L239.10 415.92 L239.85 413.00 L240.60 409.79 L241.35 406.32 L242.10 402.64 L242.85 398.79 L243.60 394.83 L244.35 390.80 L245.10 386.75 L245.85 382.74 L246.60 378.81 L247.35 375.01 L248.10 371.40 L248.85 368.01 L249.60 364.89 L250.35 362.08 L251.10 359.62 L251.85 357.53 L252.60 355.84 L253.35 354.58 L254.10 353.75 L254.85 353.37 L255.60 353.44 L256.35 353.94 L257.10 354.86 L257.85 356.19 L258.60 357.92 L259.35 360.03 L260.10 362.48 L260.85 365.25 L261.60 368.31 L262.35 371.63 L263.10 375.15 L263.85 378.84 L264.60 382.66 L265.35 386.56 L266.10 390.04 L266.85 392.25 L267.60 394.44 L268.35 396.58 L269.10 398.66 L269.85 400.64 L270.60 402.53 L271.35 404.29 L272.10 405.91 L272.85 407.38 L273.60 408.69 L274.35 409.81 L275.10 410.74 L275.85 411.48 L276.60 412.01 L277.35 412.33 L278.10 412.44 L278.85 412.33 L279.60 412.00 L280.35 411.46 L281.10 410.72 L281.85 409.77 L282.60 408.63 L283.35 407.30 L284.10 405.81 L284.85 404.16 L285.60 402.38 L286.35 400.47 L287.10 398.45 L287.85 396.35 L288.60 394.19 L289.35 391.98 L290.10 389.75 L290.85 387.66 L291.60 385.61 L292.35 383.59 L293.10 381.62 L293.85 379.71 L294.60 377.88 L295.35 376.14 L296.10 374.51 L296.85 373.00 L297.60 371.63 L298.35 370.39 L299.10 369.32 L299.85 368.40 L300.60 367.66 L301.35 367.09 L302.10 366.70 L302.85 366.50 L303.60 366.48 L304.35 366.65 L305.10 367.02 L305.85 367.58 L306.60 368.32 L307.35 369.24 L308.10 370.34 L308.85 371.59 L309.60 373.00 L310.35 374.54 L311.10 376.21 L311.85 378.00 L312.60 379.88 L313.35 381.84 L314.10 383.86 L314.85 385.94 L315.60 388.04 L316.35 390.83 L317.10 394.93 L317.85 398.97 L318.60 402.88 L319.35 406.62 L320.10 410.13 L320.85 413.38 L321.60 416.31 L322.35 418.88 L323.10 421.08 L323.85 422.86 L324.60 424.20 L325.35 425.09 L326.10 425.52 L326.85 425.43 L327.60 424.65 L328.35 423.18 L329.10 421.05 L329.85 418.30 L330.60 414.98 L331.35 411.16 L332.10 406.91 L332.85 402.33 L333.60 397.48 L334.35 392.48 L335.10 388.32 L335.85 385.52 L336.60 382.78 L337.35 380.13 L338.10 377.63 L338.85 375.31 L339.60 373.20 L340.35 371.33 L341.10 369.73 L341.85 368.43 L342.60 367.45 L343.35 366.80 L344.10 366.49 L344.85 366.50 L345.60 366.76" fill="none" stroke="#333" stroke-width="0.75" stroke-linejoin="round"/><path d="M26.80 389.45 L31.70 389.45 L32.10 391.63 L32.85 395.69 L33.60 399.67 L34.35 403.52 L35.10 407.19 L35.85 410.63 L36.60 413.80 L37.35 416.66 L38.10 419.16 L38.85 421.29 L39.60 423.01 L40.35 424.30 L41.10 425.14 L41.85 425.53 L42.60 425.46 L43.35 424.99 L44.10 424.12 L44.85 422.86 L45.60 421.22 L46.35 419.22 L47.10 416.89 L47.85 414.25 L48.60 411.33 L49.35 408.16 L50.10 404.79 L50.85 401.24 L51.60 397.56 L52.35 393.78 L53.10 389.96 L53.85 385.82 L54.60 381.67 L55.35 377.63 L56.10 373.74 L56.85 370.07 L57.60 366.65 L58.35 363.54 L59.10 360.77 L59.85 358.39 L60.60 356.41 L61.35 354.88 L62.10 353.81 L62.85 353.22 L63.60 353.10 L64.35 353.43 L65.10 354.17 L65.85 355.33 L66.60 356.88 L67.35 358.82 L68.10 361.11 L68.85 363.74 L69.60 366.66 L70.35 369.85 L71.10 373.27 L71.85 376.88 L72.60 380.63 L73.35 384.49 L74.10 388.40 L74.85 391.06 L75.60 393.25 L76.35 395.40 L77.10 397.50 L77.85 399.52 L78.60 401.45 L79.35 403.27 L80.10 404.96 L80.85 406.51 L81.60 407.91 L82.35 409.13 L83.10 410.18 L83.85 411.03 L84.60 411.69 L85.35 412.15 L86.10 412.39 L86.85 412.42 L87.60 412.23 L88.35 411.81 L89.10 411.16 L89.85 410.28 L90.60 409.20 L91.35 407.92 L92.10 406.45 L92.85 404.81 L93.60 403.01 L94.35 401.08 L95.10 399.03 L95.85 396.88 L96.60 394.65 L97.35 392.37 L98.10 390.07 L98.85 387.96 L99.60 385.93 L100.35 383.94 L101.10 381.99 L101.85 380.09 L102.60 378.27 L103.35 376.54 L104.10 374.91 L104.85 373.39 L105.60 372.00 L106.35 370.74 L107.10 369.63 L107.85 368.68 L108.60 367.89 L109.35 367.27 L110.10 366.82 L110.85 366.55 L111.60 366.46 L112.35 366.56 L113.10 366.85 L113.85 367.33 L114.60 368.00 L115.35 368.85 L116.10 369.88 L116.85 371.07 L117.60 372.42 L118.35 373.91 L119.10 375.53 L119.85 377.27 L120.60 379.11 L121.35 381.05 L122.10 383.05 L122.85 385.10 L123.60 387.20 L124.35 389.31 L125.10 391.57 L125.85 393.82 L126.60 396.03 L127.35 398.18 L128.10 400.24 L128.85 402.19 L129.60 404.02 L130.35 405.70 L131.10 407.23 L131.85 408.58 L132.60 409.75 L133.35 410.72 L134.10 411.48 L134.85 412.02 L135.60 412.34 L136.35 412.44 L137.10 412.31 L137.85 411.97 L138.60 411.40 L139.35 410.63 L140.10 409.65 L140.85 408.48 L141.60 407.12 L142.35 405.60 L143.10 403.92 L143.85 402.10 L144.60 400.15 L145.35 398.11 L146.10 395.98 L146.85 393.79 L147.60 391.55 L148.35 389.31 L149.10 387.21 L149.85 385.14 L150.60 383.10 L151.35 381.11 L152.10 379.19 L152.85 377.36 L153.60 375.62 L154.35 374.01 L155.10 372.52 L155.85 371.17 L156.60 369.97 L157.35 368.94 L158.10 368.08 L158.85 367.40 L159.60 366.90 L160.35 366.59 L161.10 366.46 L161.85 366.54 L162.60 366.80 L163.35 367.26 L164.10 367.90 L164.85 368.73 L165.60 369.73 L166.35 370.90 L167.10 372.23 L167.85 373.70 L168.60 375.31 L169.35 377.03 L170.10 378.86 L170.85 380.78 L171.60 382.78 L172.35 384.83 L173.10 386.92 L173.85 389.03 L174.60 391.24 L175.35 393.46 L176.10 395.64 L176.85 397.76 L177.60 399.81 L178.35 401.75 L179.10 403.58 L179.85 405.28 L180.60 406.82 L181.35 408.20 L182.10 409.41 L182.85 410.42 L183.60 411.24 L184.35 411.85 L185.10 412.24 L185.85 412.43 L186.60 412.39 L187.35 412.13 L188.10 411.64 L188.85 410.94 L189.60 410.03 L190.35 408.91 L191.10 407.61 L191.85 406.13 L192.60 404.48 L193.35 402.69 L194.10 400.77 L194.85 398.74 L195.60 396.61 L196.35 394.42 L197.10 392.17 L197.85 389.91 L198.60 387.77 L199.35 385.69 L200.10 383.64 L200.85 381.63 L201.60 379.69 L202.35 377.84 L203.10 376.07 L203.85 374.43 L204.60 372.90 L205.35 371.51 L206.10 370.28 L206.85 369.20 L207.60 368.29 L208.35 367.56 L209.10 367.01 L209.85 366.65 L210.60 366.48 L211.35 366.50 L212.10 366.73 L212.85 367.16 L213.60 367.79 L214.35 368.62 L215.10 369.64 L215.85 370.84 L216.60 372.20 L217.35 373.72 L218.10 375.38 L218.85 377.17 L219.60 379.07 L220.35 381.06 L221.10 383.13 L221.85 385.25 L222.60 387.41 L223.35 389.71 L224.10 393.64 L224.85 397.52 L225.60 401.30 L226.35 404.95 L227.10 408.40 L227.85 411.64 L228.60 414.61 L229.35 417.28 L230.10 419.62 L230.85 421.60 L231.60 423.19 L232.35 424.39 L233.10 425.17 L233.85 425.53 L234.60 425.45 L235.35 424.93 L236.10 423.95 L236.85 422.54 L237.60 420.72 L238.35 418.50 L239.10 415.92 L239.85 413.00 L240.60 409.79 L241.35 406.32 L242.10 402.64 L242.85 398.79 L243.60 394.83 L244.35 390.80 L245.10 386.75 L245.85 382.74 L246.60 378.81 L247.35 375.01 L248.10 371.40 L248.85 368.01 L249.60 364.89 L250.35 362.08 L251.10 359.62 L251.85 357.53 L252.60 355.84 L253.35 354.58 L254.10 353.75 L254.85 353.37 L255.60 353.44 L256.35 353.94 L257.10 354.86 L257.85 356.19 L258.60 357.92 L259.35 360.03 L260.10 362.48 L260.85 365.25 L261.60 368.31 L262.35 371.63 L263.10 375.15 L263.85 378.84 L264.60 382.66 L265.35 386.56 L266.10 390.04 L266.85 392.25 L267.60 394.44 L268.35 396.58 L269.10 398.66 L269.85 400.64 L270.60 402.53 L271.35 404.29 L272.10 405.91 L272.85 407.38 L273.60 408.69 L274.35 409.81 L275.10 410.74 L275.85 411.48 L276.60 412.01 L277.35 412.33 L278.10 412.44 L278.85 412.33 L279.60 412.00 L280.35 411.46 L281.10 410.72 L281.85 409.77 L282.60 408.63 L283.35 407.30 L284.10 405.81 L284.85 404.16 L285.60 402.38 L286.35 400.47 L287.10 398.45 L287.85 396.35 L288.60 394.19 L289.35 391.98 L290.10 389.75 L290.85 387.66 L291.60 385.61 L292.35 383.59 L293.10 381.62 L293.85 379.71 L294.60 377.88 L295.35 376.14 L296.10 374.51 L296.85 373.00 L297.60 371.63 L298.35 370.39 L299.10 369.32 L299.85 368.40 L300.60 367.66 L301.35 367.09 L302.10 366.70 L302.85 366.50 L303.60 366.48 L304.35 366.65 L305.10 367.02 L305.85 367.58 L306.60 368.32 L307.35 369.24 L308.10 370.34 L308.85 371.59 L309.60 373.00 L310.35 374.54 L311.10 376.21 L311.85 378.00 L312.60 379.88 L313.35 381.84 L314.10 383.86 L314.85 385.94 L315.60 388.04 L316.35 390.83 L317.10 394.93 L317.85 398.97 L318.60 402.88 L319.35 406.62 L320.10 410.13 L320.85 413.38 L321.60 416.31 L322.35 418.88 L323.10 421.08 L323.85 422.86 L324.60 424.20 L325.35 425.09 L326.10 425.52 L326.85 425.43 L327.60 424.65 L328.35 423.18 L329.10 421.05 L329.85 418.30 L330.60 414.98 L331.35 411.16 L332.10 406.91 L332.85 402.33 L333.60 397.48 L334.35 392.48 L335.10 388.32 L335.85 385.52 L336.60 382.78 L337.35 380.13 L338.10 377.63 L338.85 375.31 L339.60 373.20 L340.35 371.33 L341.10 369.73 L341.85 368.43 L342.60 367.45 L343.35 366.80 L344.10 366.49 L344.85 366.50 L345.60 366.76" fill="none" stroke="#ff3535" stroke-width="1.05" stroke-dasharray="4.3 1.85 1.1 1.35" stroke-linejoin="round"/><text x="22.90" y="341.70" font-size="10.60" fill="#262626" text-anchor="end">2</text><text x="22.90" y="367.68" font-size="10.60" fill="#262626" text-anchor="end">1</text><text x="22.90" y="393.65" font-size="10.60" fill="#262626" text-anchor="end">0</text><text x="22.90" y="419.62" font-size="10.60" fill="#262626" text-anchor="end">-1</text><text x="22.90" y="445.60" font-size="10.60" fill="#262626" text-anchor="end">-2</text><text x="26.80" y="456.60" font-size="10.60" fill="#262626" text-anchor="middle">0</text><text x="113.85" y="456.60" font-size="10.60" fill="#262626" text-anchor="middle">0.5</text><text x="200.90" y="456.60" font-size="10.60" fill="#262626" text-anchor="middle">1</text><text x="287.95" y="456.60" font-size="10.60" fill="#262626" text-anchor="middle">1.5</text><text x="375.00" y="456.60" font-size="10.60" fill="#262626" text-anchor="middle">2</text><text x="349.15" y="474.50" font-size="12.4" fill="#262626" text-anchor="middle">×</text><text x="374.40" y="474.60" font-size="10.60" fill="#262626" text-anchor="end">10<tspan font-size="8.3" dy="-5.6">-5</tspan></text><text transform="translate(8.00 389.45) rotate(-90)" font-size="11.90" fill="#262626" text-anchor="middle">Amp. (v)</text><text id="t20_0" transform="translate(41.43 327.70) scale(0.9750 1)" font-size="11.85" font-weight="bold" fill="#000">Proposed P</text><text id="t20_1" transform="translate(105.80 332.90) scale(1.0000 1)" font-size="8.40" font-weight="bold" fill="#000">10</text><text id="t20_2" transform="translate(118.23 327.70) scale(0.9618 1)" font-size="11.85" font-weight="bold" fill="#000">RNS-based 2-Level DWT (using only adders)</text><rect x="260.60" y="344.60" width="107.6" height="27.7" fill="#fff" stroke="#262626" stroke-width="0.65"/><line x1="264.90" y1="352.30" x2="286.50" y2="352.30" stroke="#262626" stroke-width="0.85"/><line x1="264.90" y1="365.40" x2="286.60" y2="365.40" stroke="#ff3030" stroke-width="1.0" stroke-dasharray="4.3 1.85 1.1 1.35"/><text x="288.70" y="356.00" font-size="9.80" fill="#000">Simulated</text><text x="288.70" y="368.80" font-size="9.80" fill="#000">HW Co-simulated</text></g>
<g><line x1="517.90" y1="337.50" x2="517.90" y2="441.40" stroke="#e0e0e0" stroke-width="0.7"/><line x1="605.10" y1="337.50" x2="605.10" y2="441.40" stroke="#e0e0e0" stroke-width="0.7"/><line x1="692.30" y1="337.50" x2="692.30" y2="441.40" stroke="#e0e0e0" stroke-width="0.7"/><line x1="430.70" y1="363.48" x2="779.50" y2="363.48" stroke="#e0e0e0" stroke-width="0.7"/><line x1="430.70" y1="389.45" x2="779.50" y2="389.45" stroke="#e0e0e0" stroke-width="0.7"/><line x1="430.70" y1="415.43" x2="779.50" y2="415.43" stroke="#e0e0e0" stroke-width="0.7"/><line x1="430.70" y1="441.40" x2="430.70" y2="437.90" stroke="#262626" stroke-width="0.75"/><line x1="430.70" y1="337.50" x2="430.70" y2="341.00" stroke="#262626" stroke-width="0.75"/><line x1="430.70" y1="337.50" x2="434.20" y2="337.50" stroke="#262626" stroke-width="0.75"/><line x1="779.50" y1="337.50" x2="776.00" y2="337.50" stroke="#262626" stroke-width="0.75"/><line x1="517.90" y1="441.40" x2="517.90" y2="437.90" stroke="#262626" stroke-width="0.75"/><line x1="517.90" y1="337.50" x2="517.90" y2="341.00" stroke="#262626" stroke-width="0.75"/><line x1="430.70" y1="363.48" x2="434.20" y2="363.48" stroke="#262626" stroke-width="0.75"/><line x1="779.50" y1="363.48" x2="776.00" y2="363.48" stroke="#262626" stroke-width="0.75"/><line x1="605.10" y1="441.40" x2="605.10" y2="437.90" stroke="#262626" stroke-width="0.75"/><line x1="605.10" y1="337.50" x2="605.10" y2="341.00" stroke="#262626" stroke-width="0.75"/><line x1="430.70" y1="389.45" x2="434.20" y2="389.45" stroke="#262626" stroke-width="0.75"/><line x1="779.50" y1="389.45" x2="776.00" y2="389.45" stroke="#262626" stroke-width="0.75"/><line x1="692.30" y1="441.40" x2="692.30" y2="437.90" stroke="#262626" stroke-width="0.75"/><line x1="692.30" y1="337.50" x2="692.30" y2="341.00" stroke="#262626" stroke-width="0.75"/><line x1="430.70" y1="415.43" x2="434.20" y2="415.43" stroke="#262626" stroke-width="0.75"/><line x1="779.50" y1="415.43" x2="776.00" y2="415.43" stroke="#262626" stroke-width="0.75"/><line x1="779.50" y1="441.40" x2="779.50" y2="437.90" stroke="#262626" stroke-width="0.75"/><line x1="779.50" y1="337.50" x2="779.50" y2="341.00" stroke="#262626" stroke-width="0.75"/><line x1="430.70" y1="441.40" x2="434.20" y2="441.40" stroke="#262626" stroke-width="0.75"/><line x1="779.50" y1="441.40" x2="776.00" y2="441.40" stroke="#262626" stroke-width="0.75"/><rect x="430.70" y="337.50" width="348.80" height="103.90" fill="none" stroke="#262626" stroke-width="0.75"/><path d="M430.70 389.45 L435.66 389.45 L436.06 391.63 L436.81 395.69 L437.56 399.67 L438.31 403.52 L439.07 407.19 L439.82 410.63 L440.57 413.80 L441.32 416.66 L442.07 419.16 L442.82 421.29 L443.57 423.01 L444.32 424.30 L445.08 425.14 L445.83 425.53 L446.58 425.46 L447.33 424.99 L448.08 424.12 L448.83 422.86 L449.58 421.22 L450.33 419.22 L451.09 416.89 L451.84 414.25 L452.59 411.33 L453.34 408.16 L454.09 404.79 L454.84 401.24 L455.59 397.56 L456.35 393.78 L457.10 389.96 L457.85 385.82 L458.60 381.67 L459.35 377.63 L460.10 373.74 L460.85 370.07 L461.60 366.65 L462.36 363.54 L463.11 360.77 L463.86 358.39 L464.61 356.41 L465.36 354.88 L466.11 353.81 L466.86 353.22 L467.61 353.10 L468.37 353.43 L469.12 354.17 L469.87 355.33 L470.62 356.88 L471.37 358.82 L472.12 361.11 L472.87 363.74 L473.62 366.66 L474.38 369.85 L475.13 373.27 L475.88 376.88 L476.63 380.63 L477.38 384.49 L478.13 388.40 L478.88 391.06 L479.64 393.25 L480.39 395.40 L481.14 397.50 L481.89 399.52 L482.64 401.45 L483.39 403.27 L484.14 404.96 L484.89 406.51 L485.65 407.91 L486.40 409.13 L487.15 410.18 L487.90 411.03 L488.65 411.69 L489.40 412.15 L490.15 412.39 L490.90 412.42 L491.66 412.23 L492.41 411.81 L493.16 411.16 L493.91 410.28 L494.66 409.20 L495.41 407.92 L496.16 406.45 L496.92 404.81 L497.67 403.01 L498.42 401.08 L499.17 399.03 L499.92 396.88 L500.67 394.65 L501.42 392.37 L502.17 390.07 L502.93 387.96 L503.68 385.93 L504.43 383.94 L505.18 381.99 L505.93 380.09 L506.68 378.27 L507.43 376.54 L508.18 374.91 L508.94 373.39 L509.69 372.00 L510.44 370.74 L511.19 369.63 L511.94 368.68 L512.69 367.89 L513.44 367.27 L514.19 366.82 L514.95 366.55 L515.70 366.46 L516.45 366.56 L517.20 366.85 L517.95 367.33 L518.70 368.00 L519.45 368.85 L520.21 369.88 L520.96 371.07 L521.71 372.42 L522.46 373.91 L523.21 375.53 L523.96 377.27 L524.71 379.11 L525.46 381.05 L526.22 383.05 L526.97 385.10 L527.72 387.20 L528.47 389.31 L529.22 391.57 L529.97 393.82 L530.72 396.03 L531.47 398.18 L532.23 400.24 L532.98 402.19 L533.73 404.02 L534.48 405.70 L535.23 407.23 L535.98 408.58 L536.73 409.75 L537.48 410.72 L538.24 411.48 L538.99 412.02 L539.74 412.34 L540.49 412.44 L541.24 412.31 L541.99 411.97 L542.74 411.40 L543.50 410.63 L544.25 409.65 L545.00 408.48 L545.75 407.12 L546.50 405.60 L547.25 403.92 L548.00 402.10 L548.75 400.15 L549.51 398.11 L550.26 395.98 L551.01 393.79 L551.76 391.55 L552.51 389.31 L553.26 387.21 L554.01 385.14 L554.76 383.10 L555.52 381.11 L556.27 379.19 L557.02 377.36 L557.77 375.62 L558.52 374.01 L559.27 372.52 L560.02 371.17 L560.77 369.97 L561.53 368.94 L562.28 368.08 L563.03 367.40 L563.78 366.90 L564.53 366.59 L565.28 366.46 L566.03 366.54 L566.79 366.80 L567.54 367.26 L568.29 367.90 L569.04 368.73 L569.79 369.73 L570.54 370.90 L571.29 372.23 L572.04 373.70 L572.80 375.31 L573.55 377.03 L574.30 378.86 L575.05 380.78 L575.80 382.78 L576.55 384.83 L577.30 386.92 L578.05 389.03 L578.81 391.24 L579.56 393.46 L580.31 395.64 L581.06 397.76 L581.81 399.81 L582.56 401.75 L583.31 403.58 L584.06 405.28 L584.82 406.82 L585.57 408.20 L586.32 409.41 L587.07 410.42 L587.82 411.24 L588.57 411.85 L589.32 412.24 L590.08 412.43 L590.83 412.39 L591.58 412.13 L592.33 411.64 L593.08 410.94 L593.83 410.03 L594.58 408.91 L595.33 407.61 L596.09 406.13 L596.84 404.48 L597.59 402.69 L598.34 400.77 L599.09 398.74 L599.84 396.61 L600.59 394.42 L601.34 392.17 L602.10 389.91 L602.85 387.77 L603.60 385.69 L604.35 383.64 L605.10 381.63 L605.85 379.69 L606.60 377.84 L607.35 376.07 L608.11 374.43 L608.86 372.90 L609.61 371.51 L610.36 370.28 L611.11 369.20 L611.86 368.29 L612.61 367.56 L613.37 367.01 L614.12 366.65 L614.87 366.48 L615.62 366.50 L616.37 366.73 L617.12 367.16 L617.87 367.79 L618.62 368.62 L619.38 369.64 L620.13 370.84 L620.88 372.20 L621.63 373.72 L622.38 375.38 L623.13 377.17 L623.88 379.07 L624.63 381.06 L625.39 383.13 L626.14 385.25 L626.89 387.41 L627.64 389.71 L628.39 393.64 L629.14 397.52 L629.89 401.30 L630.65 404.95 L631.40 408.40 L632.15 411.64 L632.90 414.61 L633.65 417.28 L634.40 419.62 L635.15 421.60 L635.90 423.19 L636.66 424.39 L637.41 425.17 L638.16 425.53 L638.91 425.45 L639.66 424.93 L640.41 423.95 L641.16 422.54 L641.91 420.72 L642.67 418.50 L643.42 415.92 L644.17 413.00 L644.92 409.79 L645.67 406.32 L646.42 402.64 L647.17 398.79 L647.92 394.83 L648.68 390.80 L649.43 386.75 L650.18 382.74 L650.93 378.81 L651.68 375.01 L652.43 371.40 L653.18 368.01 L653.94 364.89 L654.69 362.08 L655.44 359.62 L656.19 357.53 L656.94 355.84 L657.69 354.58 L658.44 353.75 L659.19 353.37 L659.95 353.44 L660.70 353.94 L661.45 354.86 L662.20 356.19 L662.95 357.92 L663.70 360.03 L664.45 362.48 L665.20 365.25 L665.96 368.31 L666.71 371.63 L667.46 375.15 L668.21 378.84 L668.96 382.66 L669.71 386.56 L670.46 390.04 L671.21 392.25 L671.97 394.44 L672.72 396.58 L673.47 398.66 L674.22 400.64 L674.97 402.53 L675.72 404.29 L676.47 405.91 L677.23 407.38 L677.98 408.69 L678.73 409.81 L679.48 410.74 L680.23 411.48 L680.98 412.01 L681.73 412.33 L682.48 412.44 L683.24 412.33 L683.99 412.00 L684.74 411.46 L685.49 410.72 L686.24 409.77 L686.99 408.63 L687.74 407.30 L688.49 405.81 L689.25 404.16 L690.00 402.38 L690.75 400.47 L691.50 398.45 L692.25 396.35 L693.00 394.19 L693.75 391.98 L694.50 389.75 L695.26 387.66 L696.01 385.61 L696.76 383.59 L697.51 381.62 L698.26 379.71 L699.01 377.88 L699.76 376.14 L700.52 374.51 L701.27 373.00 L702.02 371.63 L702.77 370.39 L703.52 369.32 L704.27 368.40 L705.02 367.66 L705.77 367.09 L706.53 366.70 L707.28 366.50 L708.03 366.48 L708.78 366.65 L709.53 367.02 L710.28 367.58 L711.03 368.32 L711.78 369.24 L712.54 370.34 L713.29 371.59 L714.04 373.00 L714.79 374.54 L715.54 376.21 L716.29 378.00 L717.04 379.88 L717.79 381.84 L718.55 383.86 L719.30 385.94 L720.05 388.04 L720.80 390.83 L721.55 394.93 L722.30 398.97 L723.05 402.88 L723.81 406.62 L724.56 410.13 L725.31 413.38 L726.06 416.31 L726.81 418.88 L727.56 421.08 L728.31 422.86 L729.06 424.20 L729.82 425.09 L730.57 425.52 L731.32 425.43 L732.07 424.65 L732.82 423.18 L733.57 421.05 L734.32 418.30 L735.07 414.98 L735.83 411.16 L736.58 406.91 L737.33 402.33 L738.08 397.48 L738.83 392.48 L739.58 388.32 L740.33 385.52 L741.09 382.78 L741.84 380.13 L742.59 377.63 L743.34 375.31 L744.09 373.20 L744.84 371.33 L745.59 369.73 L746.34 368.43 L747.10 367.45 L747.85 366.80 L748.60 366.49 L749.35 366.50 L750.10 366.76" fill="none" stroke="#333" stroke-width="0.75" stroke-linejoin="round"/><path d="M430.70 389.45 L435.66 389.45 L436.06 391.63 L436.81 395.69 L437.56 399.67 L438.31 403.52 L439.07 407.19 L439.82 410.63 L440.57 413.80 L441.32 416.66 L442.07 419.16 L442.82 421.29 L443.57 423.01 L444.32 424.30 L445.08 425.14 L445.83 425.53 L446.58 425.46 L447.33 424.99 L448.08 424.12 L448.83 422.86 L449.58 421.22 L450.33 419.22 L451.09 416.89 L451.84 414.25 L452.59 411.33 L453.34 408.16 L454.09 404.79 L454.84 401.24 L455.59 397.56 L456.35 393.78 L457.10 389.96 L457.85 385.82 L458.60 381.67 L459.35 377.63 L460.10 373.74 L460.85 370.07 L461.60 366.65 L462.36 363.54 L463.11 360.77 L463.86 358.39 L464.61 356.41 L465.36 354.88 L466.11 353.81 L466.86 353.22 L467.61 353.10 L468.37 353.43 L469.12 354.17 L469.87 355.33 L470.62 356.88 L471.37 358.82 L472.12 361.11 L472.87 363.74 L473.62 366.66 L474.38 369.85 L475.13 373.27 L475.88 376.88 L476.63 380.63 L477.38 384.49 L478.13 388.40 L478.88 391.06 L479.64 393.25 L480.39 395.40 L481.14 397.50 L481.89 399.52 L482.64 401.45 L483.39 403.27 L484.14 404.96 L484.89 406.51 L485.65 407.91 L486.40 409.13 L487.15 410.18 L487.90 411.03 L488.65 411.69 L489.40 412.15 L490.15 412.39 L490.90 412.42 L491.66 412.23 L492.41 411.81 L493.16 411.16 L493.91 410.28 L494.66 409.20 L495.41 407.92 L496.16 406.45 L496.92 404.81 L497.67 403.01 L498.42 401.08 L499.17 399.03 L499.92 396.88 L500.67 394.65 L501.42 392.37 L502.17 390.07 L502.93 387.96 L503.68 385.93 L504.43 383.94 L505.18 381.99 L505.93 380.09 L506.68 378.27 L507.43 376.54 L508.18 374.91 L508.94 373.39 L509.69 372.00 L510.44 370.74 L511.19 369.63 L511.94 368.68 L512.69 367.89 L513.44 367.27 L514.19 366.82 L514.95 366.55 L515.70 366.46 L516.45 366.56 L517.20 366.85 L517.95 367.33 L518.70 368.00 L519.45 368.85 L520.21 369.88 L520.96 371.07 L521.71 372.42 L522.46 373.91 L523.21 375.53 L523.96 377.27 L524.71 379.11 L525.46 381.05 L526.22 383.05 L526.97 385.10 L527.72 387.20 L528.47 389.31 L529.22 391.57 L529.97 393.82 L530.72 396.03 L531.47 398.18 L532.23 400.24 L532.98 402.19 L533.73 404.02 L534.48 405.70 L535.23 407.23 L535.98 408.58 L536.73 409.75 L537.48 410.72 L538.24 411.48 L538.99 412.02 L539.74 412.34 L540.49 412.44 L541.24 412.31 L541.99 411.97 L542.74 411.40 L543.50 410.63 L544.25 409.65 L545.00 408.48 L545.75 407.12 L546.50 405.60 L547.25 403.92 L548.00 402.10 L548.75 400.15 L549.51 398.11 L550.26 395.98 L551.01 393.79 L551.76 391.55 L552.51 389.31 L553.26 387.21 L554.01 385.14 L554.76 383.10 L555.52 381.11 L556.27 379.19 L557.02 377.36 L557.77 375.62 L558.52 374.01 L559.27 372.52 L560.02 371.17 L560.77 369.97 L561.53 368.94 L562.28 368.08 L563.03 367.40 L563.78 366.90 L564.53 366.59 L565.28 366.46 L566.03 366.54 L566.79 366.80 L567.54 367.26 L568.29 367.90 L569.04 368.73 L569.79 369.73 L570.54 370.90 L571.29 372.23 L572.04 373.70 L572.80 375.31 L573.55 377.03 L574.30 378.86 L575.05 380.78 L575.80 382.78 L576.55 384.83 L577.30 386.92 L578.05 389.03 L578.81 391.24 L579.56 393.46 L580.31 395.64 L581.06 397.76 L581.81 399.81 L582.56 401.75 L583.31 403.58 L584.06 405.28 L584.82 406.82 L585.57 408.20 L586.32 409.41 L587.07 410.42 L587.82 411.24 L588.57 411.85 L589.32 412.24 L590.08 412.43 L590.83 412.39 L591.58 412.13 L592.33 411.64 L593.08 410.94 L593.83 410.03 L594.58 408.91 L595.33 407.61 L596.09 406.13 L596.84 404.48 L597.59 402.69 L598.34 400.77 L599.09 398.74 L599.84 396.61 L600.59 394.42 L601.34 392.17 L602.10 389.91 L602.85 387.77 L603.60 385.69 L604.35 383.64 L605.10 381.63 L605.85 379.69 L606.60 377.84 L607.35 376.07 L608.11 374.43 L608.86 372.90 L609.61 371.51 L610.36 370.28 L611.11 369.20 L611.86 368.29 L612.61 367.56 L613.37 367.01 L614.12 366.65 L614.87 366.48 L615.62 366.50 L616.37 366.73 L617.12 367.16 L617.87 367.79 L618.62 368.62 L619.38 369.64 L620.13 370.84 L620.88 372.20 L621.63 373.72 L622.38 375.38 L623.13 377.17 L623.88 379.07 L624.63 381.06 L625.39 383.13 L626.14 385.25 L626.89 387.41 L627.64 389.71 L628.39 393.64 L629.14 397.52 L629.89 401.30 L630.65 404.95 L631.40 408.40 L632.15 411.64 L632.90 414.61 L633.65 417.28 L634.40 419.62 L635.15 421.60 L635.90 423.19 L636.66 424.39 L637.41 425.17 L638.16 425.53 L638.91 425.45 L639.66 424.93 L640.41 423.95 L641.16 422.54 L641.91 420.72 L642.67 418.50 L643.42 415.92 L644.17 413.00 L644.92 409.79 L645.67 406.32 L646.42 402.64 L647.17 398.79 L647.92 394.83 L648.68 390.80 L649.43 386.75 L650.18 382.74 L650.93 378.81 L651.68 375.01 L652.43 371.40 L653.18 368.01 L653.94 364.89 L654.69 362.08 L655.44 359.62 L656.19 357.53 L656.94 355.84 L657.69 354.58 L658.44 353.75 L659.19 353.37 L659.95 353.44 L660.70 353.94 L661.45 354.86 L662.20 356.19 L662.95 357.92 L663.70 360.03 L664.45 362.48 L665.20 365.25 L665.96 368.31 L666.71 371.63 L667.46 375.15 L668.21 378.84 L668.96 382.66 L669.71 386.56 L670.46 390.04 L671.21 392.25 L671.97 394.44 L672.72 396.58 L673.47 398.66 L674.22 400.64 L674.97 402.53 L675.72 404.29 L676.47 405.91 L677.23 407.38 L677.98 408.69 L678.73 409.81 L679.48 410.74 L680.23 411.48 L680.98 412.01 L681.73 412.33 L682.48 412.44 L683.24 412.33 L683.99 412.00 L684.74 411.46 L685.49 410.72 L686.24 409.77 L686.99 408.63 L687.74 407.30 L688.49 405.81 L689.25 404.16 L690.00 402.38 L690.75 400.47 L691.50 398.45 L692.25 396.35 L693.00 394.19 L693.75 391.98 L694.50 389.75 L695.26 387.66 L696.01 385.61 L696.76 383.59 L697.51 381.62 L698.26 379.71 L699.01 377.88 L699.76 376.14 L700.52 374.51 L701.27 373.00 L702.02 371.63 L702.77 370.39 L703.52 369.32 L704.27 368.40 L705.02 367.66 L705.77 367.09 L706.53 366.70 L707.28 366.50 L708.03 366.48 L708.78 366.65 L709.53 367.02 L710.28 367.58 L711.03 368.32 L711.78 369.24 L712.54 370.34 L713.29 371.59 L714.04 373.00 L714.79 374.54 L715.54 376.21 L716.29 378.00 L717.04 379.88 L717.79 381.84 L718.55 383.86 L719.30 385.94 L720.05 388.04 L720.80 390.83 L721.55 394.93 L722.30 398.97 L723.05 402.88 L723.81 406.62 L724.56 410.13 L725.31 413.38 L726.06 416.31 L726.81 418.88 L727.56 421.08 L728.31 422.86 L729.06 424.20 L729.82 425.09 L730.57 425.52 L731.32 425.43 L732.07 424.65 L732.82 423.18 L733.57 421.05 L734.32 418.30 L735.07 414.98 L735.83 411.16 L736.58 406.91 L737.33 402.33 L738.08 397.48 L738.83 392.48 L739.58 388.32 L740.33 385.52 L741.09 382.78 L741.84 380.13 L742.59 377.63 L743.34 375.31 L744.09 373.20 L744.84 371.33 L745.59 369.73 L746.34 368.43 L747.10 367.45 L747.85 366.80 L748.60 366.49 L749.35 366.50 L750.10 366.76" fill="none" stroke="#ff3535" stroke-width="1.05" stroke-dasharray="4.3 1.85 1.1 1.35" stroke-linejoin="round"/><text x="426.80" y="341.70" font-size="10.60" fill="#262626" text-anchor="end">2</text><text x="426.80" y="367.68" font-size="10.60" fill="#262626" text-anchor="end">1</text><text x="426.80" y="393.65" font-size="10.60" fill="#262626" text-anchor="end">0</text><text x="426.80" y="419.62" font-size="10.60" fill="#262626" text-anchor="end">-1</text><text x="426.80" y="445.60" font-size="10.60" fill="#262626" text-anchor="end">-2</text><text x="430.70" y="456.60" font-size="10.60" fill="#262626" text-anchor="middle">0</text><text x="517.90" y="456.60" font-size="10.60" fill="#262626" text-anchor="middle">0.5</text><text x="605.10" y="456.60" font-size="10.60" fill="#262626" text-anchor="middle">1</text><text x="692.30" y="456.60" font-size="10.60" fill="#262626" text-anchor="middle">1.5</text><text x="779.50" y="456.60" font-size="10.60" fill="#262626" text-anchor="middle">2</text><text x="753.65" y="474.50" font-size="12.4" fill="#262626" text-anchor="middle">×</text><text x="778.90" y="474.60" font-size="10.60" fill="#262626" text-anchor="end">10<tspan font-size="8.3" dy="-5.6">-5</tspan></text><text transform="translate(411.90 389.45) rotate(-90)" font-size="11.90" fill="#262626" text-anchor="middle">Amp. (v)</text><text id="t21_0" transform="translate(446.02 327.70) scale(0.9813 1)" font-size="11.85" font-weight="bold" fill="#000">Proposed P</text><text id="t21_1" transform="translate(510.00 332.90) scale(1.0000 1)" font-size="8.40" font-weight="bold" fill="#000">13</text><text id="t21_2" transform="translate(522.64 327.70) scale(0.9653 1)" font-size="11.85" font-weight="bold" fill="#000">RNS-based 2-Level DWT (using only adders)</text><rect x="665.10" y="344.60" width="107.6" height="27.7" fill="#fff" stroke="#262626" stroke-width="0.65"/><line x1="669.40" y1="352.30" x2="691.00" y2="352.30" stroke="#262626" stroke-width="0.85"/><line x1="669.40" y1="365.40" x2="691.10" y2="365.40" stroke="#ff3030" stroke-width="1.0" stroke-dasharray="4.3 1.85 1.1 1.35"/><text x="693.20" y="356.00" font-size="9.80" fill="#000">Simulated</text><text x="693.20" y="368.80" font-size="9.80" fill="#000">HW Co-simulated</text></g>
<text x="605.20" y="472.2" font-size="11.90" fill="#262626" text-anchor="middle">Time (sec)</text>
</svg></body></html>
